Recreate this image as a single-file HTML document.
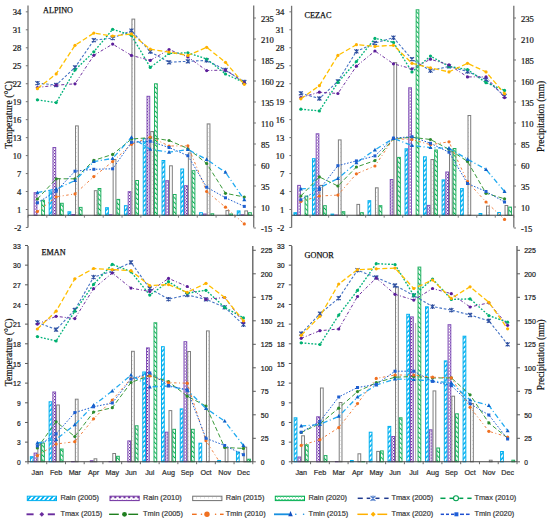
<!DOCTYPE html>
<html><head><meta charset="utf-8"><title>Climate charts</title>
<style>
html,body{margin:0;padding:0;background:#fff;}
body{width:550px;height:521px;overflow:hidden;font-family:"Liberation Sans",sans-serif;}
svg{display:block;}
</style></head><body>
<svg width="550" height="521" viewBox="0 0 550 521">
<defs>
<pattern id="pc" patternUnits="userSpaceOnUse" width="3.4" height="3.4" patternTransform="rotate(45)">
 <rect width="3.4" height="3.4" fill="#00B0F0"/><rect width="1.9" height="3.4" fill="#ffffff"/></pattern>
<pattern id="pp" patternUnits="userSpaceOnUse" width="3" height="3">
 <rect width="3" height="3" fill="#ffffff"/><rect width="1.2" height="1.2" fill="#7030A0"/><rect x="1.5" y="1.5" width="1.2" height="1.2" fill="#7030A0"/></pattern>
<pattern id="pg" patternUnits="userSpaceOnUse" width="4" height="4">
 <rect width="4" height="4" fill="#ffffff"/><rect x="0" y="0" width="0.7" height="0.7" fill="#c8c8c8"/></pattern>
<pattern id="pn" patternUnits="userSpaceOnUse" width="3.4" height="3.4" patternTransform="rotate(-45)">
 <rect width="3.4" height="3.4" fill="#ffffff"/><rect width="1.0" height="3.4" fill="#00B050"/></pattern>
</defs>
<defs>
<pattern id="lpc" patternUnits="userSpaceOnUse" width="3.4" height="3.4" patternTransform="rotate(40)">
 <rect width="3.4" height="3.4" fill="#00B0F0"/><rect width="1.7" height="3.4" fill="#ffffff"/></pattern>
<pattern id="lpp" patternUnits="userSpaceOnUse" width="4.6" height="4.4" x="0.3" y="0">
 <rect width="4.6" height="4.4" fill="#ffffff"/>
 <circle cx="0" cy="0" r="1.3" fill="#7030A0"/><circle cx="4.6" cy="0" r="1.3" fill="#7030A0"/>
 <circle cx="0" cy="4.4" r="1.3" fill="#7030A0"/><circle cx="4.6" cy="4.4" r="1.3" fill="#7030A0"/>
 <circle cx="2.3" cy="2.2" r="0.5" fill="#b090d0"/></pattern>
<pattern id="lpg" patternUnits="userSpaceOnUse" width="4" height="4">
 <rect width="4" height="4" fill="#ffffff"/><rect x="0" y="1.5" width="0.8" height="0.8" fill="#bbbbbb"/></pattern>
<pattern id="lpn" patternUnits="userSpaceOnUse" width="3" height="3">
 <rect width="3" height="3" fill="#ffffff"/><path d="M0 0.8L1.5 2.4L3 0.8" stroke="#00B050" stroke-width="0.7" fill="none"/></pattern>
</defs>
<rect width="550" height="521" fill="#ffffff"/>
<rect x="49.19" y="191.8" width="2.76" height="23.5" fill="url(#pc)" stroke="#00B0F0" stroke-width="1"/>
<rect x="68" y="211.8" width="2.76" height="3.5" fill="url(#pc)" stroke="#00B0F0" stroke-width="1"/>
<rect x="105.61" y="207.7" width="2.76" height="7.6" fill="url(#pc)" stroke="#00B0F0" stroke-width="1"/>
<rect x="124.42" y="205.7" width="2.76" height="9.6" fill="url(#pc)" stroke="#00B0F0" stroke-width="1"/>
<rect x="143.23" y="138.5" width="2.76" height="76.8" fill="url(#pc)" stroke="#00B0F0" stroke-width="1"/>
<rect x="162.04" y="160.5" width="2.76" height="54.8" fill="url(#pc)" stroke="#00B0F0" stroke-width="1"/>
<rect x="180.85" y="169" width="2.76" height="46.3" fill="url(#pc)" stroke="#00B0F0" stroke-width="1"/>
<rect x="199.66" y="212.7" width="2.76" height="2.6" fill="url(#pc)" stroke="#00B0F0" stroke-width="1"/>
<rect x="237.27" y="210.9" width="2.76" height="4.4" fill="url(#pc)" stroke="#00B0F0" stroke-width="1"/>
<rect x="34.14" y="192.7" width="2.76" height="22.6" fill="url(#pp)" stroke="#8050B8" stroke-width="1"/>
<rect x="52.95" y="147.5" width="2.76" height="67.8" fill="url(#pp)" stroke="#8050B8" stroke-width="1"/>
<rect x="71.76" y="214.5" width="2.76" height="0.8" fill="url(#pp)" stroke="#8050B8" stroke-width="1"/>
<rect x="109.38" y="214.8" width="2.76" height="0.5" fill="url(#pp)" stroke="#8050B8" stroke-width="1"/>
<rect x="128.18" y="191.7" width="2.76" height="23.6" fill="url(#pp)" stroke="#8050B8" stroke-width="1"/>
<rect x="146.99" y="96.3" width="2.76" height="119" fill="url(#pp)" stroke="#8050B8" stroke-width="1"/>
<rect x="165.8" y="180.7" width="2.76" height="34.6" fill="url(#pp)" stroke="#8050B8" stroke-width="1"/>
<rect x="184.61" y="185.7" width="2.76" height="29.6" fill="url(#pp)" stroke="#8050B8" stroke-width="1"/>
<rect x="203.42" y="214" width="2.76" height="1.3" fill="url(#pp)" stroke="#8050B8" stroke-width="1"/>
<rect x="241.03" y="214.8" width="2.76" height="0.5" fill="url(#pp)" stroke="#8050B8" stroke-width="1"/>
<rect x="56.71" y="178.5" width="2.76" height="36.8" fill="url(#pg)" stroke="#7E7E7E" stroke-width="1"/>
<rect x="75.52" y="125.9" width="2.76" height="89.4" fill="url(#pg)" stroke="#7E7E7E" stroke-width="1"/>
<rect x="94.33" y="190.7" width="2.76" height="24.6" fill="url(#pg)" stroke="#7E7E7E" stroke-width="1"/>
<rect x="113.14" y="159.5" width="2.76" height="55.8" fill="url(#pg)" stroke="#7E7E7E" stroke-width="1"/>
<rect x="131.95" y="19.1" width="2.76" height="196.2" fill="url(#pg)" stroke="#7E7E7E" stroke-width="1"/>
<rect x="150.75" y="131.5" width="2.76" height="83.8" fill="url(#pg)" stroke="#7E7E7E" stroke-width="1"/>
<rect x="169.56" y="165.8" width="2.76" height="49.5" fill="url(#pg)" stroke="#7E7E7E" stroke-width="1"/>
<rect x="188.37" y="153" width="2.76" height="62.3" fill="url(#pg)" stroke="#7E7E7E" stroke-width="1"/>
<rect x="207.18" y="123.9" width="2.76" height="91.4" fill="url(#pg)" stroke="#7E7E7E" stroke-width="1"/>
<rect x="225.99" y="210.6" width="2.76" height="4.7" fill="url(#pg)" stroke="#7E7E7E" stroke-width="1"/>
<rect x="244.8" y="210.9" width="2.76" height="4.4" fill="url(#pg)" stroke="#7E7E7E" stroke-width="1"/>
<rect x="41.67" y="200.3" width="2.76" height="15" fill="url(#pn)" stroke="#20B060" stroke-width="1"/>
<rect x="60.47" y="203.3" width="2.76" height="12" fill="url(#pn)" stroke="#20B060" stroke-width="1"/>
<rect x="79.28" y="207.4" width="2.76" height="7.9" fill="url(#pn)" stroke="#20B060" stroke-width="1"/>
<rect x="98.09" y="188.5" width="2.76" height="26.8" fill="url(#pn)" stroke="#20B060" stroke-width="1"/>
<rect x="116.9" y="199.4" width="2.76" height="15.9" fill="url(#pn)" stroke="#20B060" stroke-width="1"/>
<rect x="135.71" y="180.5" width="2.76" height="34.8" fill="url(#pn)" stroke="#20B060" stroke-width="1"/>
<rect x="154.52" y="83.8" width="2.76" height="131.5" fill="url(#pn)" stroke="#20B060" stroke-width="1"/>
<rect x="173.32" y="194.5" width="2.76" height="20.8" fill="url(#pn)" stroke="#20B060" stroke-width="1"/>
<rect x="192.13" y="170.7" width="2.76" height="44.6" fill="url(#pn)" stroke="#20B060" stroke-width="1"/>
<rect x="210.94" y="213.8" width="2.76" height="1.5" fill="url(#pn)" stroke="#20B060" stroke-width="1"/>
<rect x="229.75" y="214" width="2.76" height="1.3" fill="url(#pn)" stroke="#20B060" stroke-width="1"/>
<rect x="248.56" y="212.7" width="2.76" height="2.6" fill="url(#pn)" stroke="#20B060" stroke-width="1"/>
<clipPath id="clipALPINO"><rect x="24" y="1.6" width="233.7" height="226"/></clipPath><g clip-path="url(#clipALPINO)">
<polyline points="37.4,83.2 56.21,85 75.02,67.4 93.83,40.2 112.64,38 131.45,30.7 150.25,51.7 169.06,62.3 187.87,61.3 206.68,60.4 225.49,70 244.3,82" fill="none" stroke="#4472C4" stroke-width="1.1" stroke-dasharray="2.6 1.8"/><path d="M35.4 81.2L39.4 85.2M39.4 81.2L35.4 85.2M37.4 80.9L37.4 85.5" stroke="#2F4F9F" stroke-width="1.1" fill="none"/><path d="M54.21 83L58.21 87M58.21 83L54.21 87M56.21 82.7L56.21 87.3" stroke="#2F4F9F" stroke-width="1.1" fill="none"/><path d="M73.02 65.4L77.02 69.4M77.02 65.4L73.02 69.4M75.02 65.1L75.02 69.7" stroke="#2F4F9F" stroke-width="1.1" fill="none"/><path d="M91.83 38.2L95.83 42.2M95.83 38.2L91.83 42.2M93.83 37.9L93.83 42.5" stroke="#2F4F9F" stroke-width="1.1" fill="none"/><path d="M110.64 36L114.64 40M114.64 36L110.64 40M112.64 35.7L112.64 40.3" stroke="#2F4F9F" stroke-width="1.1" fill="none"/><path d="M129.45 28.7L133.45 32.7M133.45 28.7L129.45 32.7M131.45 28.4L131.45 33" stroke="#2F4F9F" stroke-width="1.1" fill="none"/><path d="M148.25 49.7L152.25 53.7M152.25 49.7L148.25 53.7M150.25 49.4L150.25 54" stroke="#2F4F9F" stroke-width="1.1" fill="none"/><path d="M167.06 60.3L171.06 64.3M171.06 60.3L167.06 64.3M169.06 60L169.06 64.6" stroke="#2F4F9F" stroke-width="1.1" fill="none"/><path d="M185.87 59.3L189.87 63.3M189.87 59.3L185.87 63.3M187.87 59L187.87 63.6" stroke="#2F4F9F" stroke-width="1.1" fill="none"/><path d="M204.68 58.4L208.68 62.4M208.68 58.4L204.68 62.4M206.68 58.1L206.68 62.7" stroke="#2F4F9F" stroke-width="1.1" fill="none"/><path d="M223.49 68L227.49 72M227.49 68L223.49 72M225.49 67.7L225.49 72.3" stroke="#2F4F9F" stroke-width="1.1" fill="none"/><path d="M242.3 80L246.3 84M246.3 80L242.3 84M244.3 79.7L244.3 84.3" stroke="#2F4F9F" stroke-width="1.1" fill="none"/>
<polyline points="37.4,99.8 56.21,102.6 75.02,70 93.83,51.8 112.64,29.3 131.45,35.4 150.25,67.4 169.06,53.5 187.87,52.8 206.68,59 225.49,74 244.3,82.5" fill="none" stroke="#00B27A" stroke-width="1.35" stroke-dasharray="1.8 1.6"/><circle cx="37.4" cy="99.8" r="1.6" fill="#00B070"/><circle cx="56.21" cy="102.6" r="1.6" fill="#00B070"/><circle cx="75.02" cy="70" r="1.6" fill="#00B070"/><circle cx="93.83" cy="51.8" r="1.6" fill="#00B070"/><circle cx="112.64" cy="29.3" r="1.6" fill="#00B070"/><circle cx="131.45" cy="35.4" r="1.6" fill="#00B070"/><circle cx="150.25" cy="67.4" r="1.6" fill="#00B070"/><circle cx="169.06" cy="53.5" r="1.6" fill="#00B070"/><circle cx="187.87" cy="52.8" r="1.6" fill="#00B070"/><circle cx="206.68" cy="59" r="1.6" fill="#00B070"/><circle cx="225.49" cy="74" r="1.6" fill="#00B070"/><circle cx="244.3" cy="82.5" r="1.6" fill="#00B070"/>
<polyline points="37.4,87.5 56.21,85.2 75.02,83.8 93.83,55.3 112.64,44.1 131.45,55.4 150.25,60.4 169.06,49.6 187.87,56.9 206.68,70.6 225.49,70 244.3,82.5" fill="none" stroke="#7030A0" stroke-width="1.0" stroke-dasharray="3 2 1 2"/><circle cx="37.4" cy="87.5" r="1.6" fill="#5B1E9A"/><circle cx="56.21" cy="85.2" r="1.6" fill="#5B1E9A"/><circle cx="75.02" cy="83.8" r="1.6" fill="#5B1E9A"/><circle cx="93.83" cy="55.3" r="1.6" fill="#5B1E9A"/><circle cx="112.64" cy="44.1" r="1.6" fill="#5B1E9A"/><circle cx="131.45" cy="55.4" r="1.6" fill="#5B1E9A"/><circle cx="150.25" cy="60.4" r="1.6" fill="#5B1E9A"/><circle cx="169.06" cy="49.6" r="1.6" fill="#5B1E9A"/><circle cx="187.87" cy="56.9" r="1.6" fill="#5B1E9A"/><circle cx="206.68" cy="70.6" r="1.6" fill="#5B1E9A"/><circle cx="225.49" cy="70" r="1.6" fill="#5B1E9A"/><circle cx="244.3" cy="82.5" r="1.6" fill="#5B1E9A"/>
<polyline points="37.4,199 56.21,178.8 75.02,178.8 93.83,160.4 112.64,154.4 131.45,139 150.25,137.6 169.06,140.5 187.87,148.5 206.68,163.5 225.49,193.3 244.3,197" fill="none" stroke="#3A9A3A" stroke-width="1.0" stroke-dasharray="4.5 2.5"/><circle cx="37.4" cy="199" r="1.6" fill="#2E8B2E"/><circle cx="56.21" cy="178.8" r="1.6" fill="#2E8B2E"/><circle cx="75.02" cy="178.8" r="1.6" fill="#2E8B2E"/><circle cx="93.83" cy="160.4" r="1.6" fill="#2E8B2E"/><circle cx="112.64" cy="154.4" r="1.6" fill="#2E8B2E"/><circle cx="131.45" cy="139" r="1.6" fill="#2E8B2E"/><circle cx="150.25" cy="137.6" r="1.6" fill="#2E8B2E"/><circle cx="169.06" cy="140.5" r="1.6" fill="#2E8B2E"/><circle cx="187.87" cy="148.5" r="1.6" fill="#2E8B2E"/><circle cx="206.68" cy="163.5" r="1.6" fill="#2E8B2E"/><circle cx="225.49" cy="193.3" r="1.6" fill="#2E8B2E"/><circle cx="244.3" cy="197" r="1.6" fill="#2E8B2E"/>
<polyline points="37.4,211.6 56.21,196.8 75.02,193.9 93.83,176.6 112.64,161.6 131.45,144.3 150.25,137 169.06,146 187.87,145.8 206.68,191.5 225.49,207.2 244.3,223.9" fill="none" stroke="#F08040" stroke-width="1.0" stroke-dasharray="2.5 2.5 1 2.5"/><circle cx="37.4" cy="211.6" r="1.6" fill="#F07020"/><circle cx="56.21" cy="196.8" r="1.6" fill="#F07020"/><circle cx="75.02" cy="193.9" r="1.6" fill="#F07020"/><circle cx="93.83" cy="176.6" r="1.6" fill="#F07020"/><circle cx="112.64" cy="161.6" r="1.6" fill="#F07020"/><circle cx="131.45" cy="144.3" r="1.6" fill="#F07020"/><circle cx="150.25" cy="137" r="1.6" fill="#F07020"/><circle cx="169.06" cy="146" r="1.6" fill="#F07020"/><circle cx="187.87" cy="145.8" r="1.6" fill="#F07020"/><circle cx="206.68" cy="191.5" r="1.6" fill="#F07020"/><circle cx="225.49" cy="207.2" r="1.6" fill="#F07020"/><circle cx="244.3" cy="223.9" r="1.6" fill="#F07020"/>
<polyline points="37.4,88.7 56.21,73.9 75.02,45.3 93.83,33.1 112.64,36.1 131.45,33.9 150.25,49.2 169.06,52.1 187.87,55.4 206.68,47.3 225.49,62.3 244.3,84.3" fill="none" stroke="#FFC000" stroke-width="1.3" stroke-dasharray="5 2.5"/><circle cx="37.4" cy="88.7" r="1.6" fill="#FFB000"/><circle cx="56.21" cy="73.9" r="1.6" fill="#FFB000"/><circle cx="75.02" cy="45.3" r="1.6" fill="#FFB000"/><circle cx="93.83" cy="33.1" r="1.6" fill="#FFB000"/><circle cx="112.64" cy="36.1" r="1.6" fill="#FFB000"/><circle cx="131.45" cy="33.9" r="1.6" fill="#FFB000"/><circle cx="150.25" cy="49.2" r="1.6" fill="#FFB000"/><circle cx="169.06" cy="52.1" r="1.6" fill="#FFB000"/><circle cx="187.87" cy="55.4" r="1.6" fill="#FFB000"/><circle cx="206.68" cy="47.3" r="1.6" fill="#FFB000"/><circle cx="225.49" cy="62.3" r="1.6" fill="#FFB000"/><circle cx="244.3" cy="84.3" r="1.6" fill="#FFB000"/>
<polyline points="37.4,192.7 56.21,189 75.02,180.5 93.83,161.6 112.64,158.4 131.45,137.4 150.25,149.3 169.06,152.2 187.87,149.5 206.68,159.5 225.49,172.3 244.3,199.8" fill="none" stroke="#20AAF0" stroke-width="1.3" stroke-dasharray="5 2.5 1 2.5"/><path d="M37.4 190.5L39.4 194.2L35.4 194.2Z" fill="#1060C8"/><path d="M56.21 186.8L58.21 190.5L54.21 190.5Z" fill="#1060C8"/><path d="M75.02 178.3L77.02 182L73.02 182Z" fill="#1060C8"/><path d="M93.83 159.4L95.83 163.1L91.83 163.1Z" fill="#1060C8"/><path d="M112.64 156.2L114.64 159.9L110.64 159.9Z" fill="#1060C8"/><path d="M131.45 135.2L133.45 138.9L129.45 138.9Z" fill="#1060C8"/><path d="M150.25 147.1L152.25 150.8L148.25 150.8Z" fill="#1060C8"/><path d="M169.06 150L171.06 153.7L167.06 153.7Z" fill="#1060C8"/><path d="M187.87 147.3L189.87 151L185.87 151Z" fill="#1060C8"/><path d="M206.68 157.3L208.68 161L204.68 161Z" fill="#1060C8"/><path d="M225.49 170.1L227.49 173.8L223.49 173.8Z" fill="#1060C8"/><path d="M244.3 197.6L246.3 201.3L242.3 201.3Z" fill="#1060C8"/>
<polyline points="37.4,202.8 56.21,191.2 75.02,171.2 93.83,169.3 112.64,168.8 131.45,142.3 150.25,141.3 169.06,147.5 187.87,155.7 206.68,187.2 225.49,197.8 244.3,206.4" fill="none" stroke="#2060D0" stroke-width="1.0" stroke-dasharray="1.6 1.6"/><rect x="35.9" y="201.3" width="3" height="3" fill="#1F5FCF"/><rect x="54.71" y="189.7" width="3" height="3" fill="#1F5FCF"/><rect x="73.52" y="169.7" width="3" height="3" fill="#1F5FCF"/><rect x="92.33" y="167.8" width="3" height="3" fill="#1F5FCF"/><rect x="111.14" y="167.3" width="3" height="3" fill="#1F5FCF"/><rect x="129.95" y="140.8" width="3" height="3" fill="#1F5FCF"/><rect x="148.75" y="139.8" width="3" height="3" fill="#1F5FCF"/><rect x="167.56" y="146" width="3" height="3" fill="#1F5FCF"/><rect x="186.37" y="154.2" width="3" height="3" fill="#1F5FCF"/><rect x="205.18" y="185.7" width="3" height="3" fill="#1F5FCF"/><rect x="223.99" y="196.3" width="3" height="3" fill="#1F5FCF"/><rect x="242.8" y="204.9" width="3" height="3" fill="#1F5FCF"/>
</g>
<line x1="28" y1="5.6" x2="28" y2="227.6" stroke="#737373" stroke-width="1.3"/>
<line x1="253.7" y1="5.6" x2="253.7" y2="227.6" stroke="#737373" stroke-width="1.3"/>
<line x1="28" y1="215.3" x2="253.7" y2="215.3" stroke="#404040" stroke-width="1.1"/>
<line x1="28" y1="215.3" x2="28" y2="217.7" stroke="#737373" stroke-width="0.9"/>
<line x1="46.81" y1="215.3" x2="46.81" y2="217.7" stroke="#737373" stroke-width="0.9"/>
<line x1="65.62" y1="215.3" x2="65.62" y2="217.7" stroke="#737373" stroke-width="0.9"/>
<line x1="84.42" y1="215.3" x2="84.42" y2="217.7" stroke="#737373" stroke-width="0.9"/>
<line x1="103.23" y1="215.3" x2="103.23" y2="217.7" stroke="#737373" stroke-width="0.9"/>
<line x1="122.04" y1="215.3" x2="122.04" y2="217.7" stroke="#737373" stroke-width="0.9"/>
<line x1="140.85" y1="215.3" x2="140.85" y2="217.7" stroke="#737373" stroke-width="0.9"/>
<line x1="159.66" y1="215.3" x2="159.66" y2="217.7" stroke="#737373" stroke-width="0.9"/>
<line x1="178.47" y1="215.3" x2="178.47" y2="217.7" stroke="#737373" stroke-width="0.9"/>
<line x1="197.28" y1="215.3" x2="197.28" y2="217.7" stroke="#737373" stroke-width="0.9"/>
<line x1="216.08" y1="215.3" x2="216.08" y2="217.7" stroke="#737373" stroke-width="0.9"/>
<line x1="234.89" y1="215.3" x2="234.89" y2="217.7" stroke="#737373" stroke-width="0.9"/>
<line x1="253.7" y1="215.3" x2="253.7" y2="217.7" stroke="#737373" stroke-width="0.9"/>
<line x1="25.8" y1="227.48" x2="28" y2="227.48" stroke="#737373" stroke-width="1"/>
<text x="21.3" y="230.98" text-anchor="end" font-family='"Liberation Serif", serif' font-size="8.6" fill="#1a1a1a" stroke="#1a1a1a" stroke-width="0.22">-2</text>
<line x1="25.8" y1="209.51" x2="28" y2="209.51" stroke="#737373" stroke-width="1"/>
<text x="21.3" y="213.01" text-anchor="end" font-family='"Liberation Serif", serif' font-size="8.6" fill="#1a1a1a" stroke="#1a1a1a" stroke-width="0.22">1</text>
<line x1="25.8" y1="191.54" x2="28" y2="191.54" stroke="#737373" stroke-width="1"/>
<text x="21.3" y="195.04" text-anchor="end" font-family='"Liberation Serif", serif' font-size="8.6" fill="#1a1a1a" stroke="#1a1a1a" stroke-width="0.22">4</text>
<line x1="25.8" y1="173.57" x2="28" y2="173.57" stroke="#737373" stroke-width="1"/>
<text x="21.3" y="177.07" text-anchor="end" font-family='"Liberation Serif", serif' font-size="8.6" fill="#1a1a1a" stroke="#1a1a1a" stroke-width="0.22">7</text>
<line x1="25.8" y1="155.6" x2="28" y2="155.6" stroke="#737373" stroke-width="1"/>
<text x="21.3" y="159.1" text-anchor="end" font-family='"Liberation Serif", serif' font-size="8.6" fill="#1a1a1a" stroke="#1a1a1a" stroke-width="0.22">10</text>
<line x1="25.8" y1="137.63" x2="28" y2="137.63" stroke="#737373" stroke-width="1"/>
<text x="21.3" y="141.13" text-anchor="end" font-family='"Liberation Serif", serif' font-size="8.6" fill="#1a1a1a" stroke="#1a1a1a" stroke-width="0.22">13</text>
<line x1="25.8" y1="119.66" x2="28" y2="119.66" stroke="#737373" stroke-width="1"/>
<text x="21.3" y="123.16" text-anchor="end" font-family='"Liberation Serif", serif' font-size="8.6" fill="#1a1a1a" stroke="#1a1a1a" stroke-width="0.22">16</text>
<line x1="25.8" y1="101.69" x2="28" y2="101.69" stroke="#737373" stroke-width="1"/>
<text x="21.3" y="105.19" text-anchor="end" font-family='"Liberation Serif", serif' font-size="8.6" fill="#1a1a1a" stroke="#1a1a1a" stroke-width="0.22">19</text>
<line x1="25.8" y1="83.72" x2="28" y2="83.72" stroke="#737373" stroke-width="1"/>
<text x="21.3" y="87.22" text-anchor="end" font-family='"Liberation Serif", serif' font-size="8.6" fill="#1a1a1a" stroke="#1a1a1a" stroke-width="0.22">22</text>
<line x1="25.8" y1="65.75" x2="28" y2="65.75" stroke="#737373" stroke-width="1"/>
<text x="21.3" y="69.25" text-anchor="end" font-family='"Liberation Serif", serif' font-size="8.6" fill="#1a1a1a" stroke="#1a1a1a" stroke-width="0.22">25</text>
<line x1="25.8" y1="47.78" x2="28" y2="47.78" stroke="#737373" stroke-width="1"/>
<text x="21.3" y="51.28" text-anchor="end" font-family='"Liberation Serif", serif' font-size="8.6" fill="#1a1a1a" stroke="#1a1a1a" stroke-width="0.22">28</text>
<line x1="25.8" y1="29.81" x2="28" y2="29.81" stroke="#737373" stroke-width="1"/>
<text x="21.3" y="33.31" text-anchor="end" font-family='"Liberation Serif", serif' font-size="8.6" fill="#1a1a1a" stroke="#1a1a1a" stroke-width="0.22">31</text>
<line x1="25.8" y1="11.84" x2="28" y2="11.84" stroke="#737373" stroke-width="1"/>
<text x="21.3" y="15.34" text-anchor="end" font-family='"Liberation Serif", serif' font-size="8.6" fill="#1a1a1a" stroke="#1a1a1a" stroke-width="0.22">34</text>
<line x1="253.7" y1="228" x2="255.9" y2="228" stroke="#737373" stroke-width="1"/>
<text x="260.9" y="231.5" font-family='"Liberation Serif", serif' font-size="8.6" fill="#1a1a1a" stroke="#1a1a1a" stroke-width="0.22">-15</text>
<line x1="253.7" y1="207" x2="255.9" y2="207" stroke="#737373" stroke-width="1"/>
<text x="260.9" y="210.5" font-family='"Liberation Serif", serif' font-size="8.6" fill="#1a1a1a" stroke="#1a1a1a" stroke-width="0.22">10</text>
<line x1="253.7" y1="186" x2="255.9" y2="186" stroke="#737373" stroke-width="1"/>
<text x="260.9" y="189.5" font-family='"Liberation Serif", serif' font-size="8.6" fill="#1a1a1a" stroke="#1a1a1a" stroke-width="0.22">35</text>
<line x1="253.7" y1="165" x2="255.9" y2="165" stroke="#737373" stroke-width="1"/>
<text x="260.9" y="168.5" font-family='"Liberation Serif", serif' font-size="8.6" fill="#1a1a1a" stroke="#1a1a1a" stroke-width="0.22">60</text>
<line x1="253.7" y1="144" x2="255.9" y2="144" stroke="#737373" stroke-width="1"/>
<text x="260.9" y="147.5" font-family='"Liberation Serif", serif' font-size="8.6" fill="#1a1a1a" stroke="#1a1a1a" stroke-width="0.22">85</text>
<line x1="253.7" y1="123" x2="255.9" y2="123" stroke="#737373" stroke-width="1"/>
<text x="260.9" y="126.5" font-family='"Liberation Serif", serif' font-size="8.6" fill="#1a1a1a" stroke="#1a1a1a" stroke-width="0.22">110</text>
<line x1="253.7" y1="102" x2="255.9" y2="102" stroke="#737373" stroke-width="1"/>
<text x="260.9" y="105.5" font-family='"Liberation Serif", serif' font-size="8.6" fill="#1a1a1a" stroke="#1a1a1a" stroke-width="0.22">135</text>
<line x1="253.7" y1="81" x2="255.9" y2="81" stroke="#737373" stroke-width="1"/>
<text x="260.9" y="84.5" font-family='"Liberation Serif", serif' font-size="8.6" fill="#1a1a1a" stroke="#1a1a1a" stroke-width="0.22">160</text>
<line x1="253.7" y1="60" x2="255.9" y2="60" stroke="#737373" stroke-width="1"/>
<text x="260.9" y="63.5" font-family='"Liberation Serif", serif' font-size="8.6" fill="#1a1a1a" stroke="#1a1a1a" stroke-width="0.22">185</text>
<line x1="253.7" y1="39" x2="255.9" y2="39" stroke="#737373" stroke-width="1"/>
<text x="260.9" y="42.5" font-family='"Liberation Serif", serif' font-size="8.6" fill="#1a1a1a" stroke="#1a1a1a" stroke-width="0.22">210</text>
<line x1="253.7" y1="18" x2="255.9" y2="18" stroke="#737373" stroke-width="1"/>
<text x="260.9" y="21.5" font-family='"Liberation Serif", serif' font-size="8.6" fill="#1a1a1a" stroke="#1a1a1a" stroke-width="0.22">235</text>
<text x="43.1" y="13.1" font-family='"Liberation Serif", serif' font-size="8.6" fill="#111" stroke="#111" stroke-width="0.25" textLength="29.8" lengthAdjust="spacingAndGlyphs">ALPINO</text>
<rect x="293.95" y="212.7" width="2.7" height="2.6" fill="url(#pc)" stroke="#00B0F0" stroke-width="1"/>
<rect x="312.47" y="158.7" width="2.7" height="56.6" fill="url(#pc)" stroke="#00B0F0" stroke-width="1"/>
<rect x="330.99" y="214.1" width="2.7" height="1.2" fill="url(#pc)" stroke="#00B0F0" stroke-width="1"/>
<rect x="368.02" y="200.7" width="2.7" height="14.6" fill="url(#pc)" stroke="#00B0F0" stroke-width="1"/>
<rect x="405.05" y="148.8" width="2.7" height="66.5" fill="url(#pc)" stroke="#00B0F0" stroke-width="1"/>
<rect x="423.57" y="156.8" width="2.7" height="58.5" fill="url(#pc)" stroke="#00B0F0" stroke-width="1"/>
<rect x="442.08" y="179.9" width="2.7" height="35.4" fill="url(#pc)" stroke="#00B0F0" stroke-width="1"/>
<rect x="460.6" y="188.6" width="2.7" height="26.7" fill="url(#pc)" stroke="#00B0F0" stroke-width="1"/>
<rect x="479.12" y="213.5" width="2.7" height="1.8" fill="url(#pc)" stroke="#00B0F0" stroke-width="1"/>
<rect x="497.63" y="212.5" width="2.7" height="2.8" fill="url(#pc)" stroke="#00B0F0" stroke-width="1"/>
<rect x="297.66" y="185.4" width="2.7" height="29.9" fill="url(#pp)" stroke="#8050B8" stroke-width="1"/>
<rect x="316.17" y="133.8" width="2.7" height="81.5" fill="url(#pp)" stroke="#8050B8" stroke-width="1"/>
<rect x="334.69" y="215" width="2.7" height="0.3" fill="url(#pp)" stroke="#8050B8" stroke-width="1"/>
<rect x="390.24" y="179.5" width="2.7" height="35.8" fill="url(#pp)" stroke="#8050B8" stroke-width="1"/>
<rect x="408.75" y="87.8" width="2.7" height="127.5" fill="url(#pp)" stroke="#8050B8" stroke-width="1"/>
<rect x="427.27" y="205.4" width="2.7" height="9.9" fill="url(#pp)" stroke="#8050B8" stroke-width="1"/>
<rect x="445.79" y="172" width="2.7" height="43.3" fill="url(#pp)" stroke="#8050B8" stroke-width="1"/>
<rect x="319.88" y="185.4" width="2.7" height="29.9" fill="url(#pg)" stroke="#7E7E7E" stroke-width="1"/>
<rect x="338.39" y="139.9" width="2.7" height="75.4" fill="url(#pg)" stroke="#7E7E7E" stroke-width="1"/>
<rect x="356.91" y="204.4" width="2.7" height="10.9" fill="url(#pg)" stroke="#7E7E7E" stroke-width="1"/>
<rect x="375.43" y="187.8" width="2.7" height="27.5" fill="url(#pg)" stroke="#7E7E7E" stroke-width="1"/>
<rect x="393.94" y="62.7" width="2.7" height="152.6" fill="url(#pg)" stroke="#7E7E7E" stroke-width="1"/>
<rect x="430.98" y="159.5" width="2.7" height="55.8" fill="url(#pg)" stroke="#7E7E7E" stroke-width="1"/>
<rect x="449.49" y="151.8" width="2.7" height="63.5" fill="url(#pg)" stroke="#7E7E7E" stroke-width="1"/>
<rect x="468.01" y="115.5" width="2.7" height="99.8" fill="url(#pg)" stroke="#7E7E7E" stroke-width="1"/>
<rect x="486.52" y="206.1" width="2.7" height="9.2" fill="url(#pg)" stroke="#7E7E7E" stroke-width="1"/>
<rect x="505.04" y="205.5" width="2.7" height="9.8" fill="url(#pg)" stroke="#7E7E7E" stroke-width="1"/>
<rect x="305.06" y="196.1" width="2.7" height="19.2" fill="url(#pn)" stroke="#20B060" stroke-width="1"/>
<rect x="323.58" y="205.7" width="2.7" height="9.6" fill="url(#pn)" stroke="#20B060" stroke-width="1"/>
<rect x="342.1" y="211.7" width="2.7" height="3.6" fill="url(#pn)" stroke="#20B060" stroke-width="1"/>
<rect x="360.61" y="212.7" width="2.7" height="2.6" fill="url(#pn)" stroke="#20B060" stroke-width="1"/>
<rect x="379.13" y="205.7" width="2.7" height="9.6" fill="url(#pn)" stroke="#20B060" stroke-width="1"/>
<rect x="397.64" y="157.4" width="2.7" height="57.9" fill="url(#pn)" stroke="#20B060" stroke-width="1"/>
<rect x="416.16" y="9.8" width="2.7" height="205.5" fill="url(#pn)" stroke="#20B060" stroke-width="1"/>
<rect x="434.68" y="150" width="2.7" height="65.3" fill="url(#pn)" stroke="#20B060" stroke-width="1"/>
<rect x="453.19" y="148.5" width="2.7" height="66.8" fill="url(#pn)" stroke="#20B060" stroke-width="1"/>
<rect x="508.74" y="207.1" width="2.7" height="8.2" fill="url(#pn)" stroke="#20B060" stroke-width="1"/>
<clipPath id="clipCEZAC"><rect x="287.6" y="1.8" width="230.2" height="225.8"/></clipPath><g clip-path="url(#clipCEZAC)">
<polyline points="300.86,93.3 319.38,98.5 337.89,81.3 356.41,51.4 374.93,43 393.44,37.7 411.96,59.2 430.48,70.7 448.99,66.4 467.51,71.5 486.02,79.6 504.54,96" fill="none" stroke="#4472C4" stroke-width="1.1" stroke-dasharray="2.6 1.8"/><path d="M298.86 91.3L302.86 95.3M302.86 91.3L298.86 95.3M300.86 91L300.86 95.6" stroke="#2F4F9F" stroke-width="1.1" fill="none"/><path d="M317.38 96.5L321.38 100.5M321.38 96.5L317.38 100.5M319.38 96.2L319.38 100.8" stroke="#2F4F9F" stroke-width="1.1" fill="none"/><path d="M335.89 79.3L339.89 83.3M339.89 79.3L335.89 83.3M337.89 79L337.89 83.6" stroke="#2F4F9F" stroke-width="1.1" fill="none"/><path d="M354.41 49.4L358.41 53.4M358.41 49.4L354.41 53.4M356.41 49.1L356.41 53.7" stroke="#2F4F9F" stroke-width="1.1" fill="none"/><path d="M372.93 41L376.93 45M376.93 41L372.93 45M374.93 40.7L374.93 45.3" stroke="#2F4F9F" stroke-width="1.1" fill="none"/><path d="M391.44 35.7L395.44 39.7M395.44 35.7L391.44 39.7M393.44 35.4L393.44 40" stroke="#2F4F9F" stroke-width="1.1" fill="none"/><path d="M409.96 57.2L413.96 61.2M413.96 57.2L409.96 61.2M411.96 56.9L411.96 61.5" stroke="#2F4F9F" stroke-width="1.1" fill="none"/><path d="M428.48 68.7L432.48 72.7M432.48 68.7L428.48 72.7M430.48 68.4L430.48 73" stroke="#2F4F9F" stroke-width="1.1" fill="none"/><path d="M446.99 64.4L450.99 68.4M450.99 64.4L446.99 68.4M448.99 64.1L448.99 68.7" stroke="#2F4F9F" stroke-width="1.1" fill="none"/><path d="M465.51 69.5L469.51 73.5M469.51 69.5L465.51 73.5M467.51 69.2L467.51 73.8" stroke="#2F4F9F" stroke-width="1.1" fill="none"/><path d="M484.02 77.6L488.02 81.6M488.02 77.6L484.02 81.6M486.02 77.3L486.02 81.9" stroke="#2F4F9F" stroke-width="1.1" fill="none"/><path d="M502.54 94L506.54 98M506.54 94L502.54 98M504.54 93.7L504.54 98.3" stroke="#2F4F9F" stroke-width="1.1" fill="none"/>
<polyline points="300.86,109.2 319.38,110.9 337.89,82.4 356.41,61.5 374.93,38.4 393.44,42.3 411.96,71.9 430.48,56.1 448.99,66.4 467.51,69.5 486.02,82.7 504.54,90.4" fill="none" stroke="#00B27A" stroke-width="1.35" stroke-dasharray="1.8 1.6"/><circle cx="300.86" cy="109.2" r="1.6" fill="#00B070"/><circle cx="319.38" cy="110.9" r="1.6" fill="#00B070"/><circle cx="337.89" cy="82.4" r="1.6" fill="#00B070"/><circle cx="356.41" cy="61.5" r="1.6" fill="#00B070"/><circle cx="374.93" cy="38.4" r="1.6" fill="#00B070"/><circle cx="393.44" cy="42.3" r="1.6" fill="#00B070"/><circle cx="411.96" cy="71.9" r="1.6" fill="#00B070"/><circle cx="430.48" cy="56.1" r="1.6" fill="#00B070"/><circle cx="448.99" cy="66.4" r="1.6" fill="#00B070"/><circle cx="467.51" cy="69.5" r="1.6" fill="#00B070"/><circle cx="486.02" cy="82.7" r="1.6" fill="#00B070"/><circle cx="504.54" cy="90.4" r="1.6" fill="#00B070"/>
<polyline points="300.86,97.5 319.38,92.2 337.89,93.5 356.41,66.2 374.93,51 393.44,63.8 411.96,68.8 430.48,59.2 448.99,64.9 467.51,76.9 486.02,76.9 504.54,97.6" fill="none" stroke="#7030A0" stroke-width="1.0" stroke-dasharray="3 2 1 2"/><circle cx="300.86" cy="97.5" r="1.6" fill="#5B1E9A"/><circle cx="319.38" cy="92.2" r="1.6" fill="#5B1E9A"/><circle cx="337.89" cy="93.5" r="1.6" fill="#5B1E9A"/><circle cx="356.41" cy="66.2" r="1.6" fill="#5B1E9A"/><circle cx="374.93" cy="51" r="1.6" fill="#5B1E9A"/><circle cx="393.44" cy="63.8" r="1.6" fill="#5B1E9A"/><circle cx="411.96" cy="68.8" r="1.6" fill="#5B1E9A"/><circle cx="430.48" cy="59.2" r="1.6" fill="#5B1E9A"/><circle cx="448.99" cy="64.9" r="1.6" fill="#5B1E9A"/><circle cx="467.51" cy="76.9" r="1.6" fill="#5B1E9A"/><circle cx="486.02" cy="76.9" r="1.6" fill="#5B1E9A"/><circle cx="504.54" cy="97.6" r="1.6" fill="#5B1E9A"/>
<polyline points="300.86,196 319.38,176.9 337.89,186 356.41,167 374.93,160.6 393.44,138.8 411.96,137.3 430.48,139.5 448.99,149.3 467.51,161.4 486.02,193.3 504.54,198.8" fill="none" stroke="#3A9A3A" stroke-width="1.0" stroke-dasharray="4.5 2.5"/><circle cx="300.86" cy="196" r="1.6" fill="#2E8B2E"/><circle cx="319.38" cy="176.9" r="1.6" fill="#2E8B2E"/><circle cx="337.89" cy="186" r="1.6" fill="#2E8B2E"/><circle cx="356.41" cy="167" r="1.6" fill="#2E8B2E"/><circle cx="374.93" cy="160.6" r="1.6" fill="#2E8B2E"/><circle cx="393.44" cy="138.8" r="1.6" fill="#2E8B2E"/><circle cx="411.96" cy="137.3" r="1.6" fill="#2E8B2E"/><circle cx="430.48" cy="139.5" r="1.6" fill="#2E8B2E"/><circle cx="448.99" cy="149.3" r="1.6" fill="#2E8B2E"/><circle cx="467.51" cy="161.4" r="1.6" fill="#2E8B2E"/><circle cx="486.02" cy="193.3" r="1.6" fill="#2E8B2E"/><circle cx="504.54" cy="198.8" r="1.6" fill="#2E8B2E"/>
<polyline points="300.86,201.5 319.38,196 337.89,195.1 356.41,173.8 374.93,166 393.44,138.6 411.96,139.5 430.48,144.7 448.99,141.8 467.51,181.7 486.02,202 504.54,219.4" fill="none" stroke="#F08040" stroke-width="1.0" stroke-dasharray="2.5 2.5 1 2.5"/><circle cx="300.86" cy="201.5" r="1.6" fill="#F07020"/><circle cx="319.38" cy="196" r="1.6" fill="#F07020"/><circle cx="337.89" cy="195.1" r="1.6" fill="#F07020"/><circle cx="356.41" cy="173.8" r="1.6" fill="#F07020"/><circle cx="374.93" cy="166" r="1.6" fill="#F07020"/><circle cx="393.44" cy="138.6" r="1.6" fill="#F07020"/><circle cx="411.96" cy="139.5" r="1.6" fill="#F07020"/><circle cx="430.48" cy="144.7" r="1.6" fill="#F07020"/><circle cx="448.99" cy="141.8" r="1.6" fill="#F07020"/><circle cx="467.51" cy="181.7" r="1.6" fill="#F07020"/><circle cx="486.02" cy="202" r="1.6" fill="#F07020"/><circle cx="504.54" cy="219.4" r="1.6" fill="#F07020"/>
<polyline points="300.86,98.8 319.38,85.7 337.89,55.4 356.41,44.7 374.93,46.4 393.44,45.3 411.96,63.3 430.48,67.9 448.99,71.9 467.51,63.3 486.02,71.9 504.54,93.7" fill="none" stroke="#FFC000" stroke-width="1.3" stroke-dasharray="5 2.5"/><circle cx="300.86" cy="98.8" r="1.6" fill="#FFB000"/><circle cx="319.38" cy="85.7" r="1.6" fill="#FFB000"/><circle cx="337.89" cy="55.4" r="1.6" fill="#FFB000"/><circle cx="356.41" cy="44.7" r="1.6" fill="#FFB000"/><circle cx="374.93" cy="46.4" r="1.6" fill="#FFB000"/><circle cx="393.44" cy="45.3" r="1.6" fill="#FFB000"/><circle cx="411.96" cy="63.3" r="1.6" fill="#FFB000"/><circle cx="430.48" cy="67.9" r="1.6" fill="#FFB000"/><circle cx="448.99" cy="71.9" r="1.6" fill="#FFB000"/><circle cx="467.51" cy="63.3" r="1.6" fill="#FFB000"/><circle cx="486.02" cy="71.9" r="1.6" fill="#FFB000"/><circle cx="504.54" cy="93.7" r="1.6" fill="#FFB000"/>
<polyline points="300.86,188.9 319.38,188 337.89,178.5 356.41,162.8 374.93,149.9 393.44,138.4 411.96,145.5 430.48,147.6 448.99,148.3 467.51,159.2 486.02,169.4 504.54,191.5" fill="none" stroke="#20AAF0" stroke-width="1.3" stroke-dasharray="5 2.5 1 2.5"/><path d="M300.86 186.7L302.86 190.4L298.86 190.4Z" fill="#1060C8"/><path d="M319.38 185.8L321.38 189.5L317.38 189.5Z" fill="#1060C8"/><path d="M337.89 176.3L339.89 180L335.89 180Z" fill="#1060C8"/><path d="M356.41 160.6L358.41 164.3L354.41 164.3Z" fill="#1060C8"/><path d="M374.93 147.7L376.93 151.4L372.93 151.4Z" fill="#1060C8"/><path d="M393.44 136.2L395.44 139.9L391.44 139.9Z" fill="#1060C8"/><path d="M411.96 143.3L413.96 147L409.96 147Z" fill="#1060C8"/><path d="M430.48 145.4L432.48 149.1L428.48 149.1Z" fill="#1060C8"/><path d="M448.99 146.1L450.99 149.8L446.99 149.8Z" fill="#1060C8"/><path d="M467.51 157L469.51 160.7L465.51 160.7Z" fill="#1060C8"/><path d="M486.02 167.2L488.02 170.9L484.02 170.9Z" fill="#1060C8"/><path d="M504.54 189.3L506.54 193L502.54 193Z" fill="#1060C8"/>
<polyline points="300.86,199.8 319.38,189.5 337.89,165.7 356.41,160.9 374.93,155.9 393.44,138.1 411.96,136.7 430.48,143.3 448.99,152.2 467.51,183.5 486.02,191.5 504.54,202" fill="none" stroke="#2060D0" stroke-width="1.0" stroke-dasharray="1.6 1.6"/><rect x="299.36" y="198.3" width="3" height="3" fill="#1F5FCF"/><rect x="317.88" y="188" width="3" height="3" fill="#1F5FCF"/><rect x="336.39" y="164.2" width="3" height="3" fill="#1F5FCF"/><rect x="354.91" y="159.4" width="3" height="3" fill="#1F5FCF"/><rect x="373.43" y="154.4" width="3" height="3" fill="#1F5FCF"/><rect x="391.94" y="136.6" width="3" height="3" fill="#1F5FCF"/><rect x="410.46" y="135.2" width="3" height="3" fill="#1F5FCF"/><rect x="428.98" y="141.8" width="3" height="3" fill="#1F5FCF"/><rect x="447.49" y="150.7" width="3" height="3" fill="#1F5FCF"/><rect x="466.01" y="182" width="3" height="3" fill="#1F5FCF"/><rect x="484.52" y="190" width="3" height="3" fill="#1F5FCF"/><rect x="503.04" y="200.5" width="3" height="3" fill="#1F5FCF"/>
</g>
<line x1="291.6" y1="5.8" x2="291.6" y2="227.6" stroke="#737373" stroke-width="1.3"/>
<line x1="513.8" y1="5.8" x2="513.8" y2="227.6" stroke="#737373" stroke-width="1.3"/>
<line x1="291.6" y1="215.3" x2="513.8" y2="215.3" stroke="#404040" stroke-width="1.1"/>
<line x1="291.6" y1="215.3" x2="291.6" y2="217.7" stroke="#737373" stroke-width="0.9"/>
<line x1="310.12" y1="215.3" x2="310.12" y2="217.7" stroke="#737373" stroke-width="0.9"/>
<line x1="328.63" y1="215.3" x2="328.63" y2="217.7" stroke="#737373" stroke-width="0.9"/>
<line x1="347.15" y1="215.3" x2="347.15" y2="217.7" stroke="#737373" stroke-width="0.9"/>
<line x1="365.67" y1="215.3" x2="365.67" y2="217.7" stroke="#737373" stroke-width="0.9"/>
<line x1="384.18" y1="215.3" x2="384.18" y2="217.7" stroke="#737373" stroke-width="0.9"/>
<line x1="402.7" y1="215.3" x2="402.7" y2="217.7" stroke="#737373" stroke-width="0.9"/>
<line x1="421.22" y1="215.3" x2="421.22" y2="217.7" stroke="#737373" stroke-width="0.9"/>
<line x1="439.73" y1="215.3" x2="439.73" y2="217.7" stroke="#737373" stroke-width="0.9"/>
<line x1="458.25" y1="215.3" x2="458.25" y2="217.7" stroke="#737373" stroke-width="0.9"/>
<line x1="476.77" y1="215.3" x2="476.77" y2="217.7" stroke="#737373" stroke-width="0.9"/>
<line x1="495.28" y1="215.3" x2="495.28" y2="217.7" stroke="#737373" stroke-width="0.9"/>
<line x1="513.8" y1="215.3" x2="513.8" y2="217.7" stroke="#737373" stroke-width="0.9"/>
<line x1="289.4" y1="227.48" x2="291.6" y2="227.48" stroke="#737373" stroke-width="1"/>
<text x="284.3" y="230.98" text-anchor="end" font-family='"Liberation Serif", serif' font-size="8.6" fill="#1a1a1a" stroke="#1a1a1a" stroke-width="0.22">-2</text>
<line x1="289.4" y1="209.51" x2="291.6" y2="209.51" stroke="#737373" stroke-width="1"/>
<text x="284.3" y="213.01" text-anchor="end" font-family='"Liberation Serif", serif' font-size="8.6" fill="#1a1a1a" stroke="#1a1a1a" stroke-width="0.22">1</text>
<line x1="289.4" y1="191.54" x2="291.6" y2="191.54" stroke="#737373" stroke-width="1"/>
<text x="284.3" y="195.04" text-anchor="end" font-family='"Liberation Serif", serif' font-size="8.6" fill="#1a1a1a" stroke="#1a1a1a" stroke-width="0.22">4</text>
<line x1="289.4" y1="173.57" x2="291.6" y2="173.57" stroke="#737373" stroke-width="1"/>
<text x="284.3" y="177.07" text-anchor="end" font-family='"Liberation Serif", serif' font-size="8.6" fill="#1a1a1a" stroke="#1a1a1a" stroke-width="0.22">7</text>
<line x1="289.4" y1="155.6" x2="291.6" y2="155.6" stroke="#737373" stroke-width="1"/>
<text x="284.3" y="159.1" text-anchor="end" font-family='"Liberation Serif", serif' font-size="8.6" fill="#1a1a1a" stroke="#1a1a1a" stroke-width="0.22">10</text>
<line x1="289.4" y1="137.63" x2="291.6" y2="137.63" stroke="#737373" stroke-width="1"/>
<text x="284.3" y="141.13" text-anchor="end" font-family='"Liberation Serif", serif' font-size="8.6" fill="#1a1a1a" stroke="#1a1a1a" stroke-width="0.22">13</text>
<line x1="289.4" y1="119.66" x2="291.6" y2="119.66" stroke="#737373" stroke-width="1"/>
<text x="284.3" y="123.16" text-anchor="end" font-family='"Liberation Serif", serif' font-size="8.6" fill="#1a1a1a" stroke="#1a1a1a" stroke-width="0.22">16</text>
<line x1="289.4" y1="101.69" x2="291.6" y2="101.69" stroke="#737373" stroke-width="1"/>
<text x="284.3" y="105.19" text-anchor="end" font-family='"Liberation Serif", serif' font-size="8.6" fill="#1a1a1a" stroke="#1a1a1a" stroke-width="0.22">19</text>
<line x1="289.4" y1="83.72" x2="291.6" y2="83.72" stroke="#737373" stroke-width="1"/>
<text x="284.3" y="87.22" text-anchor="end" font-family='"Liberation Serif", serif' font-size="8.6" fill="#1a1a1a" stroke="#1a1a1a" stroke-width="0.22">22</text>
<line x1="289.4" y1="65.75" x2="291.6" y2="65.75" stroke="#737373" stroke-width="1"/>
<text x="284.3" y="69.25" text-anchor="end" font-family='"Liberation Serif", serif' font-size="8.6" fill="#1a1a1a" stroke="#1a1a1a" stroke-width="0.22">25</text>
<line x1="289.4" y1="47.78" x2="291.6" y2="47.78" stroke="#737373" stroke-width="1"/>
<text x="284.3" y="51.28" text-anchor="end" font-family='"Liberation Serif", serif' font-size="8.6" fill="#1a1a1a" stroke="#1a1a1a" stroke-width="0.22">28</text>
<line x1="289.4" y1="29.81" x2="291.6" y2="29.81" stroke="#737373" stroke-width="1"/>
<text x="284.3" y="33.31" text-anchor="end" font-family='"Liberation Serif", serif' font-size="8.6" fill="#1a1a1a" stroke="#1a1a1a" stroke-width="0.22">31</text>
<line x1="289.4" y1="11.84" x2="291.6" y2="11.84" stroke="#737373" stroke-width="1"/>
<text x="284.3" y="15.34" text-anchor="end" font-family='"Liberation Serif", serif' font-size="8.6" fill="#1a1a1a" stroke="#1a1a1a" stroke-width="0.22">34</text>
<line x1="513.8" y1="228" x2="516" y2="228" stroke="#737373" stroke-width="1"/>
<text x="520.9" y="231.5" font-family='"Liberation Serif", serif' font-size="8.6" fill="#1a1a1a" stroke="#1a1a1a" stroke-width="0.22">-15</text>
<line x1="513.8" y1="207" x2="516" y2="207" stroke="#737373" stroke-width="1"/>
<text x="520.9" y="210.5" font-family='"Liberation Serif", serif' font-size="8.6" fill="#1a1a1a" stroke="#1a1a1a" stroke-width="0.22">10</text>
<line x1="513.8" y1="186" x2="516" y2="186" stroke="#737373" stroke-width="1"/>
<text x="520.9" y="189.5" font-family='"Liberation Serif", serif' font-size="8.6" fill="#1a1a1a" stroke="#1a1a1a" stroke-width="0.22">35</text>
<line x1="513.8" y1="165" x2="516" y2="165" stroke="#737373" stroke-width="1"/>
<text x="520.9" y="168.5" font-family='"Liberation Serif", serif' font-size="8.6" fill="#1a1a1a" stroke="#1a1a1a" stroke-width="0.22">60</text>
<line x1="513.8" y1="144" x2="516" y2="144" stroke="#737373" stroke-width="1"/>
<text x="520.9" y="147.5" font-family='"Liberation Serif", serif' font-size="8.6" fill="#1a1a1a" stroke="#1a1a1a" stroke-width="0.22">85</text>
<line x1="513.8" y1="123" x2="516" y2="123" stroke="#737373" stroke-width="1"/>
<text x="520.9" y="126.5" font-family='"Liberation Serif", serif' font-size="8.6" fill="#1a1a1a" stroke="#1a1a1a" stroke-width="0.22">110</text>
<line x1="513.8" y1="102" x2="516" y2="102" stroke="#737373" stroke-width="1"/>
<text x="520.9" y="105.5" font-family='"Liberation Serif", serif' font-size="8.6" fill="#1a1a1a" stroke="#1a1a1a" stroke-width="0.22">135</text>
<line x1="513.8" y1="81" x2="516" y2="81" stroke="#737373" stroke-width="1"/>
<text x="520.9" y="84.5" font-family='"Liberation Serif", serif' font-size="8.6" fill="#1a1a1a" stroke="#1a1a1a" stroke-width="0.22">160</text>
<line x1="513.8" y1="60" x2="516" y2="60" stroke="#737373" stroke-width="1"/>
<text x="520.9" y="63.5" font-family='"Liberation Serif", serif' font-size="8.6" fill="#1a1a1a" stroke="#1a1a1a" stroke-width="0.22">185</text>
<line x1="513.8" y1="39" x2="516" y2="39" stroke="#737373" stroke-width="1"/>
<text x="520.9" y="42.5" font-family='"Liberation Serif", serif' font-size="8.6" fill="#1a1a1a" stroke="#1a1a1a" stroke-width="0.22">210</text>
<line x1="513.8" y1="18" x2="516" y2="18" stroke="#737373" stroke-width="1"/>
<text x="520.9" y="21.5" font-family='"Liberation Serif", serif' font-size="8.6" fill="#1a1a1a" stroke="#1a1a1a" stroke-width="0.22">235</text>
<text x="304.5" y="18.1" font-family='"Liberation Serif", serif' font-size="8.6" fill="#111" stroke="#111" stroke-width="0.25" textLength="26.9" lengthAdjust="spacingAndGlyphs">CEZAC</text>
<rect x="30.37" y="456.7" width="2.75" height="5.1" fill="url(#pc)" stroke="#00B0F0" stroke-width="1"/>
<rect x="49.11" y="401.8" width="2.75" height="60" fill="url(#pc)" stroke="#00B0F0" stroke-width="1"/>
<rect x="142.77" y="372" width="2.75" height="89.8" fill="url(#pc)" stroke="#00B0F0" stroke-width="1"/>
<rect x="161.51" y="346.7" width="2.75" height="115.1" fill="url(#pc)" stroke="#00B0F0" stroke-width="1"/>
<rect x="180.24" y="408.9" width="2.75" height="52.9" fill="url(#pc)" stroke="#00B0F0" stroke-width="1"/>
<rect x="198.97" y="443.2" width="2.75" height="18.6" fill="url(#pc)" stroke="#00B0F0" stroke-width="1"/>
<rect x="217.71" y="460.5" width="2.75" height="1.3" fill="url(#pc)" stroke="#00B0F0" stroke-width="1"/>
<rect x="236.44" y="452" width="2.75" height="9.8" fill="url(#pc)" stroke="#00B0F0" stroke-width="1"/>
<rect x="34.12" y="453.1" width="2.75" height="8.7" fill="url(#pp)" stroke="#8050B8" stroke-width="1"/>
<rect x="52.85" y="392" width="2.75" height="69.8" fill="url(#pp)" stroke="#8050B8" stroke-width="1"/>
<rect x="71.59" y="461.5" width="2.75" height="0.3" fill="url(#pp)" stroke="#8050B8" stroke-width="1"/>
<rect x="90.32" y="460.7" width="2.75" height="1.1" fill="url(#pp)" stroke="#8050B8" stroke-width="1"/>
<rect x="109.05" y="461.5" width="2.75" height="0.3" fill="url(#pp)" stroke="#8050B8" stroke-width="1"/>
<rect x="127.79" y="440.9" width="2.75" height="20.9" fill="url(#pp)" stroke="#8050B8" stroke-width="1"/>
<rect x="146.52" y="347.9" width="2.75" height="113.9" fill="url(#pp)" stroke="#8050B8" stroke-width="1"/>
<rect x="165.25" y="432.2" width="2.75" height="29.6" fill="url(#pp)" stroke="#8050B8" stroke-width="1"/>
<rect x="183.99" y="341.7" width="2.75" height="120.1" fill="url(#pp)" stroke="#8050B8" stroke-width="1"/>
<rect x="37.87" y="443.1" width="2.75" height="18.7" fill="url(#pg)" stroke="#7E7E7E" stroke-width="1"/>
<rect x="56.6" y="405" width="2.75" height="56.8" fill="url(#pg)" stroke="#7E7E7E" stroke-width="1"/>
<rect x="75.33" y="399.2" width="2.75" height="62.6" fill="url(#pg)" stroke="#7E7E7E" stroke-width="1"/>
<rect x="94.07" y="458.8" width="2.75" height="3" fill="url(#pg)" stroke="#7E7E7E" stroke-width="1"/>
<rect x="112.8" y="453.5" width="2.75" height="8.3" fill="url(#pg)" stroke="#7E7E7E" stroke-width="1"/>
<rect x="131.53" y="351.3" width="2.75" height="110.5" fill="url(#pg)" stroke="#7E7E7E" stroke-width="1"/>
<rect x="169" y="410.6" width="2.75" height="51.2" fill="url(#pg)" stroke="#7E7E7E" stroke-width="1"/>
<rect x="187.73" y="351.5" width="2.75" height="110.3" fill="url(#pg)" stroke="#7E7E7E" stroke-width="1"/>
<rect x="206.47" y="330.9" width="2.75" height="130.9" fill="url(#pg)" stroke="#7E7E7E" stroke-width="1"/>
<rect x="225.2" y="448" width="2.75" height="13.8" fill="url(#pg)" stroke="#7E7E7E" stroke-width="1"/>
<rect x="243.93" y="447.2" width="2.75" height="14.6" fill="url(#pg)" stroke="#7E7E7E" stroke-width="1"/>
<rect x="41.61" y="443.1" width="2.75" height="18.7" fill="url(#pn)" stroke="#20B060" stroke-width="1"/>
<rect x="60.35" y="449" width="2.75" height="12.8" fill="url(#pn)" stroke="#20B060" stroke-width="1"/>
<rect x="116.55" y="456.3" width="2.75" height="5.5" fill="url(#pn)" stroke="#20B060" stroke-width="1"/>
<rect x="135.28" y="425.8" width="2.75" height="36" fill="url(#pn)" stroke="#20B060" stroke-width="1"/>
<rect x="154.01" y="322.8" width="2.75" height="139" fill="url(#pn)" stroke="#20B060" stroke-width="1"/>
<rect x="172.75" y="429.3" width="2.75" height="32.5" fill="url(#pn)" stroke="#20B060" stroke-width="1"/>
<rect x="191.48" y="429.3" width="2.75" height="32.5" fill="url(#pn)" stroke="#20B060" stroke-width="1"/>
<rect x="247.68" y="459.2" width="2.75" height="2.6" fill="url(#pn)" stroke="#20B060" stroke-width="1"/>
<clipPath id="clipEMAN"><rect x="24" y="242" width="232.8" height="219.8"/></clipPath><g clip-path="url(#clipEMAN)">
<polyline points="37.37,322.4 56.1,329.6 74.83,310 93.57,277.1 112.3,271.1 131.03,262.4 149.77,288.5 168.5,299.2 187.23,294.9 205.97,299.3 224.7,307.3 243.43,324.7" fill="none" stroke="#4472C4" stroke-width="1.1" stroke-dasharray="2.6 1.8"/><path d="M35.37 320.4L39.37 324.4M39.37 320.4L35.37 324.4M37.37 320.1L37.37 324.7" stroke="#2F4F9F" stroke-width="1.1" fill="none"/><path d="M54.1 327.6L58.1 331.6M58.1 327.6L54.1 331.6M56.1 327.3L56.1 331.9" stroke="#2F4F9F" stroke-width="1.1" fill="none"/><path d="M72.83 308L76.83 312M76.83 308L72.83 312M74.83 307.7L74.83 312.3" stroke="#2F4F9F" stroke-width="1.1" fill="none"/><path d="M91.57 275.1L95.57 279.1M95.57 275.1L91.57 279.1M93.57 274.8L93.57 279.4" stroke="#2F4F9F" stroke-width="1.1" fill="none"/><path d="M110.3 269.1L114.3 273.1M114.3 269.1L110.3 273.1M112.3 268.8L112.3 273.4" stroke="#2F4F9F" stroke-width="1.1" fill="none"/><path d="M129.03 260.4L133.03 264.4M133.03 260.4L129.03 264.4M131.03 260.1L131.03 264.7" stroke="#2F4F9F" stroke-width="1.1" fill="none"/><path d="M147.77 286.5L151.77 290.5M151.77 286.5L147.77 290.5M149.77 286.2L149.77 290.8" stroke="#2F4F9F" stroke-width="1.1" fill="none"/><path d="M166.5 297.2L170.5 301.2M170.5 297.2L166.5 301.2M168.5 296.9L168.5 301.5" stroke="#2F4F9F" stroke-width="1.1" fill="none"/><path d="M185.23 292.9L189.23 296.9M189.23 292.9L185.23 296.9M187.23 292.6L187.23 297.2" stroke="#2F4F9F" stroke-width="1.1" fill="none"/><path d="M203.97 297.3L207.97 301.3M207.97 297.3L203.97 301.3M205.97 297L205.97 301.6" stroke="#2F4F9F" stroke-width="1.1" fill="none"/><path d="M222.7 305.3L226.7 309.3M226.7 305.3L222.7 309.3M224.7 305L224.7 309.6" stroke="#2F4F9F" stroke-width="1.1" fill="none"/><path d="M241.43 322.7L245.43 326.7M245.43 322.7L241.43 326.7M243.43 322.4L243.43 327" stroke="#2F4F9F" stroke-width="1.1" fill="none"/>
<polyline points="37.37,336.6 56.1,341 74.83,311.2 93.57,284.4 112.3,264.3 131.03,271.8 149.77,295.1 168.5,281.7 187.23,293.2 205.97,290.3 224.7,307.3 243.43,317.9" fill="none" stroke="#00B27A" stroke-width="1.35" stroke-dasharray="1.8 1.6"/><circle cx="37.37" cy="336.6" r="1.6" fill="#00B070"/><circle cx="56.1" cy="341" r="1.6" fill="#00B070"/><circle cx="74.83" cy="311.2" r="1.6" fill="#00B070"/><circle cx="93.57" cy="284.4" r="1.6" fill="#00B070"/><circle cx="112.3" cy="264.3" r="1.6" fill="#00B070"/><circle cx="131.03" cy="271.8" r="1.6" fill="#00B070"/><circle cx="149.77" cy="295.1" r="1.6" fill="#00B070"/><circle cx="168.5" cy="281.7" r="1.6" fill="#00B070"/><circle cx="187.23" cy="293.2" r="1.6" fill="#00B070"/><circle cx="205.97" cy="290.3" r="1.6" fill="#00B070"/><circle cx="224.7" cy="307.3" r="1.6" fill="#00B070"/><circle cx="243.43" cy="317.9" r="1.6" fill="#00B070"/>
<polyline points="37.37,324.1 56.1,316.3 74.83,318.6 93.57,288.7 112.3,273 131.03,288.1 149.77,291.5 168.5,278.4 187.23,286.5 205.97,299.3 224.7,297.5 243.43,322.5" fill="none" stroke="#7030A0" stroke-width="1.0" stroke-dasharray="3 2 1 2"/><circle cx="37.37" cy="324.1" r="1.6" fill="#5B1E9A"/><circle cx="56.1" cy="316.3" r="1.6" fill="#5B1E9A"/><circle cx="74.83" cy="318.6" r="1.6" fill="#5B1E9A"/><circle cx="93.57" cy="288.7" r="1.6" fill="#5B1E9A"/><circle cx="112.3" cy="273" r="1.6" fill="#5B1E9A"/><circle cx="131.03" cy="288.1" r="1.6" fill="#5B1E9A"/><circle cx="149.77" cy="291.5" r="1.6" fill="#5B1E9A"/><circle cx="168.5" cy="278.4" r="1.6" fill="#5B1E9A"/><circle cx="187.23" cy="286.5" r="1.6" fill="#5B1E9A"/><circle cx="205.97" cy="299.3" r="1.6" fill="#5B1E9A"/><circle cx="224.7" cy="297.5" r="1.6" fill="#5B1E9A"/><circle cx="243.43" cy="322.5" r="1.6" fill="#5B1E9A"/>
<polyline points="37.37,447.9 56.1,421.8 74.83,436.5 93.57,412.1 112.3,407.7 131.03,382.5 149.77,375.5 168.5,381.6 187.23,396.2 205.97,406 224.7,447.5 243.43,448.4" fill="none" stroke="#3A9A3A" stroke-width="1.0" stroke-dasharray="4.5 2.5"/><circle cx="37.37" cy="447.9" r="1.6" fill="#2E8B2E"/><circle cx="56.1" cy="421.8" r="1.6" fill="#2E8B2E"/><circle cx="74.83" cy="436.5" r="1.6" fill="#2E8B2E"/><circle cx="93.57" cy="412.1" r="1.6" fill="#2E8B2E"/><circle cx="112.3" cy="407.7" r="1.6" fill="#2E8B2E"/><circle cx="131.03" cy="382.5" r="1.6" fill="#2E8B2E"/><circle cx="149.77" cy="375.5" r="1.6" fill="#2E8B2E"/><circle cx="168.5" cy="381.6" r="1.6" fill="#2E8B2E"/><circle cx="187.23" cy="396.2" r="1.6" fill="#2E8B2E"/><circle cx="205.97" cy="406" r="1.6" fill="#2E8B2E"/><circle cx="224.7" cy="447.5" r="1.6" fill="#2E8B2E"/><circle cx="243.43" cy="448.4" r="1.6" fill="#2E8B2E"/>
<polyline points="37.37,455.7 56.1,444 74.83,441.7 93.57,418.8 112.3,400 131.03,378.4 149.77,376 168.5,382.7 187.23,383.2 205.97,440.7 224.7,470 243.43,472" fill="none" stroke="#F08040" stroke-width="1.0" stroke-dasharray="2.5 2.5 1 2.5"/><circle cx="37.37" cy="455.7" r="1.6" fill="#F07020"/><circle cx="56.1" cy="444" r="1.6" fill="#F07020"/><circle cx="74.83" cy="441.7" r="1.6" fill="#F07020"/><circle cx="93.57" cy="418.8" r="1.6" fill="#F07020"/><circle cx="112.3" cy="400" r="1.6" fill="#F07020"/><circle cx="131.03" cy="378.4" r="1.6" fill="#F07020"/><circle cx="149.77" cy="376" r="1.6" fill="#F07020"/><circle cx="168.5" cy="382.7" r="1.6" fill="#F07020"/><circle cx="187.23" cy="383.2" r="1.6" fill="#F07020"/><circle cx="205.97" cy="440.7" r="1.6" fill="#F07020"/><circle cx="224.7" cy="470" r="1.6" fill="#F07020"/><circle cx="243.43" cy="472" r="1.6" fill="#F07020"/>
<polyline points="37.37,329 56.1,311.2 74.83,278.8 93.57,268.5 112.3,269.6 131.03,270.7 149.77,285.6 168.5,284.6 187.23,292.3 205.97,283.3 224.7,297.5 243.43,320.8" fill="none" stroke="#FFC000" stroke-width="1.3" stroke-dasharray="5 2.5"/><circle cx="37.37" cy="329" r="1.6" fill="#FFB000"/><circle cx="56.1" cy="311.2" r="1.6" fill="#FFB000"/><circle cx="74.83" cy="278.8" r="1.6" fill="#FFB000"/><circle cx="93.57" cy="268.5" r="1.6" fill="#FFB000"/><circle cx="112.3" cy="269.6" r="1.6" fill="#FFB000"/><circle cx="131.03" cy="270.7" r="1.6" fill="#FFB000"/><circle cx="149.77" cy="285.6" r="1.6" fill="#FFB000"/><circle cx="168.5" cy="284.6" r="1.6" fill="#FFB000"/><circle cx="187.23" cy="292.3" r="1.6" fill="#FFB000"/><circle cx="205.97" cy="283.3" r="1.6" fill="#FFB000"/><circle cx="224.7" cy="297.5" r="1.6" fill="#FFB000"/><circle cx="243.43" cy="320.8" r="1.6" fill="#FFB000"/>
<polyline points="37.37,443 56.1,439.4 74.83,424.8 93.57,405.3 112.3,390.9 131.03,375.1 149.77,386.9 168.5,386 187.23,390 205.97,408.4 224.7,421.1 243.43,445.5" fill="none" stroke="#20AAF0" stroke-width="1.3" stroke-dasharray="5 2.5 1 2.5"/><path d="M37.37 440.8L39.37 444.5L35.37 444.5Z" fill="#1060C8"/><path d="M56.1 437.2L58.1 440.9L54.1 440.9Z" fill="#1060C8"/><path d="M74.83 422.6L76.83 426.3L72.83 426.3Z" fill="#1060C8"/><path d="M93.57 403.1L95.57 406.8L91.57 406.8Z" fill="#1060C8"/><path d="M112.3 388.7L114.3 392.4L110.3 392.4Z" fill="#1060C8"/><path d="M131.03 372.9L133.03 376.6L129.03 376.6Z" fill="#1060C8"/><path d="M149.77 384.7L151.77 388.4L147.77 388.4Z" fill="#1060C8"/><path d="M168.5 383.8L170.5 387.5L166.5 387.5Z" fill="#1060C8"/><path d="M187.23 387.8L189.23 391.5L185.23 391.5Z" fill="#1060C8"/><path d="M205.97 406.2L207.97 409.9L203.97 409.9Z" fill="#1060C8"/><path d="M224.7 418.9L226.7 422.6L222.7 422.6Z" fill="#1060C8"/><path d="M243.43 443.3L245.43 447L241.43 447Z" fill="#1060C8"/>
<polyline points="37.37,446 56.1,433.9 74.83,412.6 93.57,406.8 112.3,403 131.03,379 149.77,372.9 168.5,385.5 187.23,390 205.97,438.3 224.7,445.5 243.43,454.7" fill="none" stroke="#2060D0" stroke-width="1.0" stroke-dasharray="1.6 1.6"/><rect x="35.87" y="444.5" width="3" height="3" fill="#1F5FCF"/><rect x="54.6" y="432.4" width="3" height="3" fill="#1F5FCF"/><rect x="73.33" y="411.1" width="3" height="3" fill="#1F5FCF"/><rect x="92.07" y="405.3" width="3" height="3" fill="#1F5FCF"/><rect x="110.8" y="401.5" width="3" height="3" fill="#1F5FCF"/><rect x="129.53" y="377.5" width="3" height="3" fill="#1F5FCF"/><rect x="148.27" y="371.4" width="3" height="3" fill="#1F5FCF"/><rect x="167" y="384" width="3" height="3" fill="#1F5FCF"/><rect x="185.73" y="388.5" width="3" height="3" fill="#1F5FCF"/><rect x="204.47" y="436.8" width="3" height="3" fill="#1F5FCF"/><rect x="223.2" y="444" width="3" height="3" fill="#1F5FCF"/><rect x="241.93" y="453.2" width="3" height="3" fill="#1F5FCF"/>
</g>
<line x1="28" y1="246" x2="28" y2="461.8" stroke="#5A5A5A" stroke-width="1.3"/>
<line x1="252.8" y1="246" x2="252.8" y2="461.8" stroke="#5A5A5A" stroke-width="1.3"/>
<line x1="28" y1="461.8" x2="252.8" y2="461.8" stroke="#404040" stroke-width="1.1"/>
<line x1="28" y1="461.8" x2="28" y2="464.2" stroke="#5A5A5A" stroke-width="0.9"/>
<line x1="46.73" y1="461.8" x2="46.73" y2="464.2" stroke="#5A5A5A" stroke-width="0.9"/>
<line x1="65.47" y1="461.8" x2="65.47" y2="464.2" stroke="#5A5A5A" stroke-width="0.9"/>
<line x1="84.2" y1="461.8" x2="84.2" y2="464.2" stroke="#5A5A5A" stroke-width="0.9"/>
<line x1="102.93" y1="461.8" x2="102.93" y2="464.2" stroke="#5A5A5A" stroke-width="0.9"/>
<line x1="121.67" y1="461.8" x2="121.67" y2="464.2" stroke="#5A5A5A" stroke-width="0.9"/>
<line x1="140.4" y1="461.8" x2="140.4" y2="464.2" stroke="#5A5A5A" stroke-width="0.9"/>
<line x1="159.13" y1="461.8" x2="159.13" y2="464.2" stroke="#5A5A5A" stroke-width="0.9"/>
<line x1="177.87" y1="461.8" x2="177.87" y2="464.2" stroke="#5A5A5A" stroke-width="0.9"/>
<line x1="196.6" y1="461.8" x2="196.6" y2="464.2" stroke="#5A5A5A" stroke-width="0.9"/>
<line x1="215.33" y1="461.8" x2="215.33" y2="464.2" stroke="#5A5A5A" stroke-width="0.9"/>
<line x1="234.07" y1="461.8" x2="234.07" y2="464.2" stroke="#5A5A5A" stroke-width="0.9"/>
<line x1="252.8" y1="461.8" x2="252.8" y2="464.2" stroke="#5A5A5A" stroke-width="0.9"/>
<line x1="25" y1="461.8" x2="28" y2="461.8" stroke="#5A5A5A" stroke-width="1"/>
<text x="20.8" y="464.9" text-anchor="end" font-family='"Liberation Sans", sans-serif' font-size="7.6" fill="#1a1a1a" stroke="#1a1a1a" stroke-width="0.22" textLength="3.7" lengthAdjust="spacingAndGlyphs">0</text>
<line x1="25" y1="442.13" x2="28" y2="442.13" stroke="#5A5A5A" stroke-width="1"/>
<text x="20.8" y="445.24" text-anchor="end" font-family='"Liberation Sans", sans-serif' font-size="7.6" fill="#1a1a1a" stroke="#1a1a1a" stroke-width="0.22" textLength="3.7" lengthAdjust="spacingAndGlyphs">3</text>
<line x1="25" y1="422.47" x2="28" y2="422.47" stroke="#5A5A5A" stroke-width="1"/>
<text x="20.8" y="425.57" text-anchor="end" font-family='"Liberation Sans", sans-serif' font-size="7.6" fill="#1a1a1a" stroke="#1a1a1a" stroke-width="0.22" textLength="3.7" lengthAdjust="spacingAndGlyphs">6</text>
<line x1="25" y1="402.81" x2="28" y2="402.81" stroke="#5A5A5A" stroke-width="1"/>
<text x="20.8" y="405.91" text-anchor="end" font-family='"Liberation Sans", sans-serif' font-size="7.6" fill="#1a1a1a" stroke="#1a1a1a" stroke-width="0.22" textLength="3.7" lengthAdjust="spacingAndGlyphs">9</text>
<line x1="25" y1="383.14" x2="28" y2="383.14" stroke="#5A5A5A" stroke-width="1"/>
<text x="20.8" y="386.24" text-anchor="end" font-family='"Liberation Sans", sans-serif' font-size="7.6" fill="#1a1a1a" stroke="#1a1a1a" stroke-width="0.22" textLength="7.7" lengthAdjust="spacingAndGlyphs">12</text>
<line x1="25" y1="363.48" x2="28" y2="363.48" stroke="#5A5A5A" stroke-width="1"/>
<text x="20.8" y="366.58" text-anchor="end" font-family='"Liberation Sans", sans-serif' font-size="7.6" fill="#1a1a1a" stroke="#1a1a1a" stroke-width="0.22" textLength="7.7" lengthAdjust="spacingAndGlyphs">15</text>
<line x1="25" y1="343.81" x2="28" y2="343.81" stroke="#5A5A5A" stroke-width="1"/>
<text x="20.8" y="346.91" text-anchor="end" font-family='"Liberation Sans", sans-serif' font-size="7.6" fill="#1a1a1a" stroke="#1a1a1a" stroke-width="0.22" textLength="7.7" lengthAdjust="spacingAndGlyphs">18</text>
<line x1="25" y1="324.14" x2="28" y2="324.14" stroke="#5A5A5A" stroke-width="1"/>
<text x="20.8" y="327.25" text-anchor="end" font-family='"Liberation Sans", sans-serif' font-size="7.6" fill="#1a1a1a" stroke="#1a1a1a" stroke-width="0.22" textLength="7.7" lengthAdjust="spacingAndGlyphs">21</text>
<line x1="25" y1="304.48" x2="28" y2="304.48" stroke="#5A5A5A" stroke-width="1"/>
<text x="20.8" y="307.58" text-anchor="end" font-family='"Liberation Sans", sans-serif' font-size="7.6" fill="#1a1a1a" stroke="#1a1a1a" stroke-width="0.22" textLength="7.7" lengthAdjust="spacingAndGlyphs">24</text>
<line x1="25" y1="284.82" x2="28" y2="284.82" stroke="#5A5A5A" stroke-width="1"/>
<text x="20.8" y="287.92" text-anchor="end" font-family='"Liberation Sans", sans-serif' font-size="7.6" fill="#1a1a1a" stroke="#1a1a1a" stroke-width="0.22" textLength="7.7" lengthAdjust="spacingAndGlyphs">27</text>
<line x1="25" y1="265.15" x2="28" y2="265.15" stroke="#5A5A5A" stroke-width="1"/>
<text x="20.8" y="268.25" text-anchor="end" font-family='"Liberation Sans", sans-serif' font-size="7.6" fill="#1a1a1a" stroke="#1a1a1a" stroke-width="0.22" textLength="7.7" lengthAdjust="spacingAndGlyphs">30</text>
<line x1="25" y1="245.49" x2="28" y2="245.49" stroke="#5A5A5A" stroke-width="1"/>
<text x="20.8" y="248.59" text-anchor="end" font-family='"Liberation Sans", sans-serif' font-size="7.6" fill="#1a1a1a" stroke="#1a1a1a" stroke-width="0.22" textLength="7.7" lengthAdjust="spacingAndGlyphs">33</text>
<line x1="252.8" y1="461.8" x2="255.8" y2="461.8" stroke="#5A5A5A" stroke-width="1"/>
<text x="260.8" y="464.9" font-family='"Liberation Sans", sans-serif' font-size="7.6" fill="#1a1a1a" stroke="#1a1a1a" stroke-width="0.22" textLength="3.7" lengthAdjust="spacingAndGlyphs">0</text>
<line x1="252.8" y1="438.3" x2="255.8" y2="438.3" stroke="#5A5A5A" stroke-width="1"/>
<text x="260.8" y="441.4" font-family='"Liberation Sans", sans-serif' font-size="7.6" fill="#1a1a1a" stroke="#1a1a1a" stroke-width="0.22" textLength="7.7" lengthAdjust="spacingAndGlyphs">25</text>
<line x1="252.8" y1="414.8" x2="255.8" y2="414.8" stroke="#5A5A5A" stroke-width="1"/>
<text x="260.8" y="417.9" font-family='"Liberation Sans", sans-serif' font-size="7.6" fill="#1a1a1a" stroke="#1a1a1a" stroke-width="0.22" textLength="7.7" lengthAdjust="spacingAndGlyphs">50</text>
<line x1="252.8" y1="391.3" x2="255.8" y2="391.3" stroke="#5A5A5A" stroke-width="1"/>
<text x="260.8" y="394.4" font-family='"Liberation Sans", sans-serif' font-size="7.6" fill="#1a1a1a" stroke="#1a1a1a" stroke-width="0.22" textLength="7.7" lengthAdjust="spacingAndGlyphs">75</text>
<line x1="252.8" y1="367.8" x2="255.8" y2="367.8" stroke="#5A5A5A" stroke-width="1"/>
<text x="260.8" y="370.9" font-family='"Liberation Sans", sans-serif' font-size="7.6" fill="#1a1a1a" stroke="#1a1a1a" stroke-width="0.22" textLength="11.7" lengthAdjust="spacingAndGlyphs">100</text>
<line x1="252.8" y1="344.3" x2="255.8" y2="344.3" stroke="#5A5A5A" stroke-width="1"/>
<text x="260.8" y="347.4" font-family='"Liberation Sans", sans-serif' font-size="7.6" fill="#1a1a1a" stroke="#1a1a1a" stroke-width="0.22" textLength="11.7" lengthAdjust="spacingAndGlyphs">125</text>
<line x1="252.8" y1="320.8" x2="255.8" y2="320.8" stroke="#5A5A5A" stroke-width="1"/>
<text x="260.8" y="323.9" font-family='"Liberation Sans", sans-serif' font-size="7.6" fill="#1a1a1a" stroke="#1a1a1a" stroke-width="0.22" textLength="11.7" lengthAdjust="spacingAndGlyphs">150</text>
<line x1="252.8" y1="297.3" x2="255.8" y2="297.3" stroke="#5A5A5A" stroke-width="1"/>
<text x="260.8" y="300.4" font-family='"Liberation Sans", sans-serif' font-size="7.6" fill="#1a1a1a" stroke="#1a1a1a" stroke-width="0.22" textLength="11.7" lengthAdjust="spacingAndGlyphs">175</text>
<line x1="252.8" y1="273.8" x2="255.8" y2="273.8" stroke="#5A5A5A" stroke-width="1"/>
<text x="260.8" y="276.9" font-family='"Liberation Sans", sans-serif' font-size="7.6" fill="#1a1a1a" stroke="#1a1a1a" stroke-width="0.22" textLength="11.7" lengthAdjust="spacingAndGlyphs">200</text>
<line x1="252.8" y1="250.3" x2="255.8" y2="250.3" stroke="#5A5A5A" stroke-width="1"/>
<text x="260.8" y="253.4" font-family='"Liberation Sans", sans-serif' font-size="7.6" fill="#1a1a1a" stroke="#1a1a1a" stroke-width="0.22" textLength="11.7" lengthAdjust="spacingAndGlyphs">225</text>
<text x="41.6" y="255.2" font-family='"Liberation Serif", serif' font-size="8.6" fill="#111" stroke="#111" stroke-width="0.25" textLength="24" lengthAdjust="spacingAndGlyphs">EMAN</text>
<text x="37.37" y="475.2" text-anchor="middle" font-family='"Liberation Sans", sans-serif' font-size="7.2" fill="#333" stroke="#333" stroke-width="0.22">Jan</text>
<text x="56.1" y="475.2" text-anchor="middle" font-family='"Liberation Sans", sans-serif' font-size="7.2" fill="#333" stroke="#333" stroke-width="0.22">Feb</text>
<text x="74.83" y="475.2" text-anchor="middle" font-family='"Liberation Sans", sans-serif' font-size="7.2" fill="#333" stroke="#333" stroke-width="0.22">Mar</text>
<text x="93.57" y="475.2" text-anchor="middle" font-family='"Liberation Sans", sans-serif' font-size="7.2" fill="#333" stroke="#333" stroke-width="0.22">Apr</text>
<text x="112.3" y="475.2" text-anchor="middle" font-family='"Liberation Sans", sans-serif' font-size="7.2" fill="#333" stroke="#333" stroke-width="0.22">May</text>
<text x="131.03" y="475.2" text-anchor="middle" font-family='"Liberation Sans", sans-serif' font-size="7.2" fill="#333" stroke="#333" stroke-width="0.22">Jun</text>
<text x="149.77" y="475.2" text-anchor="middle" font-family='"Liberation Sans", sans-serif' font-size="7.2" fill="#333" stroke="#333" stroke-width="0.22">Jul</text>
<text x="168.5" y="475.2" text-anchor="middle" font-family='"Liberation Sans", sans-serif' font-size="7.2" fill="#333" stroke="#333" stroke-width="0.22">Aug</text>
<text x="187.23" y="475.2" text-anchor="middle" font-family='"Liberation Sans", sans-serif' font-size="7.2" fill="#333" stroke="#333" stroke-width="0.22">Sep</text>
<text x="205.97" y="475.2" text-anchor="middle" font-family='"Liberation Sans", sans-serif' font-size="7.2" fill="#333" stroke="#333" stroke-width="0.22">Oct</text>
<text x="224.7" y="475.2" text-anchor="middle" font-family='"Liberation Sans", sans-serif' font-size="7.2" fill="#333" stroke="#333" stroke-width="0.22">Nov</text>
<text x="243.43" y="475.2" text-anchor="middle" font-family='"Liberation Sans", sans-serif' font-size="7.2" fill="#333" stroke="#333" stroke-width="0.22">Dec</text>
<rect x="294.18" y="417.8" width="2.75" height="44" fill="url(#pc)" stroke="#00B0F0" stroke-width="1"/>
<rect x="350.48" y="460.5" width="2.75" height="1.3" fill="url(#pc)" stroke="#00B0F0" stroke-width="1"/>
<rect x="369.24" y="432.2" width="2.75" height="29.6" fill="url(#pc)" stroke="#00B0F0" stroke-width="1"/>
<rect x="388.01" y="426.4" width="2.75" height="35.4" fill="url(#pc)" stroke="#00B0F0" stroke-width="1"/>
<rect x="406.78" y="314.3" width="2.75" height="147.5" fill="url(#pc)" stroke="#00B0F0" stroke-width="1"/>
<rect x="425.54" y="306.8" width="2.75" height="155" fill="url(#pc)" stroke="#00B0F0" stroke-width="1"/>
<rect x="444.31" y="360.9" width="2.75" height="100.9" fill="url(#pc)" stroke="#00B0F0" stroke-width="1"/>
<rect x="463.08" y="336.2" width="2.75" height="125.6" fill="url(#pc)" stroke="#00B0F0" stroke-width="1"/>
<rect x="500.61" y="451.5" width="2.75" height="10.3" fill="url(#pc)" stroke="#00B0F0" stroke-width="1"/>
<rect x="297.93" y="457" width="2.75" height="4.8" fill="url(#pp)" stroke="#8050B8" stroke-width="1"/>
<rect x="316.7" y="416.8" width="2.75" height="45" fill="url(#pp)" stroke="#8050B8" stroke-width="1"/>
<rect x="335.46" y="461.5" width="2.75" height="0.3" fill="url(#pp)" stroke="#8050B8" stroke-width="1"/>
<rect x="391.76" y="436.5" width="2.75" height="25.3" fill="url(#pp)" stroke="#8050B8" stroke-width="1"/>
<rect x="410.53" y="316.9" width="2.75" height="144.9" fill="url(#pp)" stroke="#8050B8" stroke-width="1"/>
<rect x="429.3" y="429.8" width="2.75" height="32" fill="url(#pp)" stroke="#8050B8" stroke-width="1"/>
<rect x="448.06" y="324.7" width="2.75" height="137.1" fill="url(#pp)" stroke="#8050B8" stroke-width="1"/>
<rect x="301.68" y="435.8" width="2.75" height="26" fill="url(#pg)" stroke="#7E7E7E" stroke-width="1"/>
<rect x="320.45" y="388" width="2.75" height="73.8" fill="url(#pg)" stroke="#7E7E7E" stroke-width="1"/>
<rect x="339.22" y="402.5" width="2.75" height="59.3" fill="url(#pg)" stroke="#7E7E7E" stroke-width="1"/>
<rect x="357.98" y="453.8" width="2.75" height="8" fill="url(#pg)" stroke="#7E7E7E" stroke-width="1"/>
<rect x="376.75" y="451.4" width="2.75" height="10.4" fill="url(#pg)" stroke="#7E7E7E" stroke-width="1"/>
<rect x="395.52" y="286.8" width="2.75" height="175" fill="url(#pg)" stroke="#7E7E7E" stroke-width="1"/>
<rect x="433.05" y="390.9" width="2.75" height="70.9" fill="url(#pg)" stroke="#7E7E7E" stroke-width="1"/>
<rect x="451.82" y="396.2" width="2.75" height="65.6" fill="url(#pg)" stroke="#7E7E7E" stroke-width="1"/>
<rect x="470.58" y="403.5" width="2.75" height="58.3" fill="url(#pg)" stroke="#7E7E7E" stroke-width="1"/>
<rect x="489.35" y="460.2" width="2.75" height="1.6" fill="url(#pg)" stroke="#7E7E7E" stroke-width="1"/>
<rect x="305.44" y="444.8" width="2.75" height="17" fill="url(#pn)" stroke="#20B060" stroke-width="1"/>
<rect x="324.2" y="455.6" width="2.75" height="6.2" fill="url(#pn)" stroke="#20B060" stroke-width="1"/>
<rect x="361.74" y="461.5" width="2.75" height="0.3" fill="url(#pn)" stroke="#20B060" stroke-width="1"/>
<rect x="380.5" y="450.9" width="2.75" height="10.9" fill="url(#pn)" stroke="#20B060" stroke-width="1"/>
<rect x="399.27" y="417.8" width="2.75" height="44" fill="url(#pn)" stroke="#20B060" stroke-width="1"/>
<rect x="418.04" y="267.1" width="2.75" height="194.7" fill="url(#pn)" stroke="#20B060" stroke-width="1"/>
<rect x="436.8" y="448" width="2.75" height="13.8" fill="url(#pn)" stroke="#20B060" stroke-width="1"/>
<rect x="455.57" y="413.8" width="2.75" height="48" fill="url(#pn)" stroke="#20B060" stroke-width="1"/>
<rect x="511.87" y="460.2" width="2.75" height="1.6" fill="url(#pn)" stroke="#20B060" stroke-width="1"/>
<line x1="415.6" y1="323" x2="415.6" y2="461.5" stroke="#a0a0a0" stroke-width="0.9"/>
<clipPath id="clipGONOR"><rect x="287.8" y="242" width="233.2" height="219.8"/></clipPath><g clip-path="url(#clipGONOR)">
<polyline points="301.18,333.6 319.95,313.7 338.72,298.2 357.48,270.2 376.25,277.5 395.02,285.5 413.78,295.4 432.55,306.6 451.32,310.1 470.08,315 488.85,320.8 507.62,344.3" fill="none" stroke="#4472C4" stroke-width="1.1" stroke-dasharray="2.6 1.8"/><path d="M299.18 331.6L303.18 335.6M303.18 331.6L299.18 335.6M301.18 331.3L301.18 335.9" stroke="#2F4F9F" stroke-width="1.1" fill="none"/><path d="M317.95 311.7L321.95 315.7M321.95 311.7L317.95 315.7M319.95 311.4L319.95 316" stroke="#2F4F9F" stroke-width="1.1" fill="none"/><path d="M336.72 296.2L340.72 300.2M340.72 296.2L336.72 300.2M338.72 295.9L338.72 300.5" stroke="#2F4F9F" stroke-width="1.1" fill="none"/><path d="M355.48 268.2L359.48 272.2M359.48 268.2L355.48 272.2M357.48 267.9L357.48 272.5" stroke="#2F4F9F" stroke-width="1.1" fill="none"/><path d="M374.25 275.5L378.25 279.5M378.25 275.5L374.25 279.5M376.25 275.2L376.25 279.8" stroke="#2F4F9F" stroke-width="1.1" fill="none"/><path d="M393.02 283.5L397.02 287.5M397.02 283.5L393.02 287.5M395.02 283.2L395.02 287.8" stroke="#2F4F9F" stroke-width="1.1" fill="none"/><path d="M411.78 293.4L415.78 297.4M415.78 293.4L411.78 297.4M413.78 293.1L413.78 297.7" stroke="#2F4F9F" stroke-width="1.1" fill="none"/><path d="M430.55 304.6L434.55 308.6M434.55 304.6L430.55 308.6M432.55 304.3L432.55 308.9" stroke="#2F4F9F" stroke-width="1.1" fill="none"/><path d="M449.32 308.1L453.32 312.1M453.32 308.1L449.32 312.1M451.32 307.8L451.32 312.4" stroke="#2F4F9F" stroke-width="1.1" fill="none"/><path d="M468.08 313L472.08 317M472.08 313L468.08 317M470.08 312.7L470.08 317.3" stroke="#2F4F9F" stroke-width="1.1" fill="none"/><path d="M486.85 318.8L490.85 322.8M490.85 318.8L486.85 322.8M488.85 318.5L488.85 323.1" stroke="#2F4F9F" stroke-width="1.1" fill="none"/><path d="M505.62 342.3L509.62 346.3M509.62 342.3L505.62 346.3M507.62 342L507.62 346.6" stroke="#2F4F9F" stroke-width="1.1" fill="none"/>
<polyline points="301.18,342.8 319.95,344.5 338.72,315.1 357.48,290.4 376.25,263.7 395.02,264.5 413.78,295.4 432.55,279 451.32,299.4 470.08,298.9 488.85,315.6 507.62,322.2" fill="none" stroke="#00B27A" stroke-width="1.35" stroke-dasharray="1.8 1.6"/><circle cx="301.18" cy="342.8" r="1.6" fill="#00B070"/><circle cx="319.95" cy="344.5" r="1.6" fill="#00B070"/><circle cx="338.72" cy="315.1" r="1.6" fill="#00B070"/><circle cx="357.48" cy="290.4" r="1.6" fill="#00B070"/><circle cx="376.25" cy="263.7" r="1.6" fill="#00B070"/><circle cx="395.02" cy="264.5" r="1.6" fill="#00B070"/><circle cx="413.78" cy="295.4" r="1.6" fill="#00B070"/><circle cx="432.55" cy="279" r="1.6" fill="#00B070"/><circle cx="451.32" cy="299.4" r="1.6" fill="#00B070"/><circle cx="470.08" cy="298.9" r="1.6" fill="#00B070"/><circle cx="488.85" cy="315.6" r="1.6" fill="#00B070"/><circle cx="507.62" cy="322.2" r="1.6" fill="#00B070"/>
<polyline points="301.18,338.3 319.95,330.7 338.72,329 357.48,296.5 376.25,278 395.02,294.3 413.78,300.1 432.55,288.5 451.32,293.7 470.08,307 488.85,302.8 507.62,325.3" fill="none" stroke="#7030A0" stroke-width="1.0" stroke-dasharray="3 2 1 2"/><circle cx="301.18" cy="338.3" r="1.6" fill="#5B1E9A"/><circle cx="319.95" cy="330.7" r="1.6" fill="#5B1E9A"/><circle cx="338.72" cy="329" r="1.6" fill="#5B1E9A"/><circle cx="357.48" cy="296.5" r="1.6" fill="#5B1E9A"/><circle cx="376.25" cy="278" r="1.6" fill="#5B1E9A"/><circle cx="395.02" cy="294.3" r="1.6" fill="#5B1E9A"/><circle cx="413.78" cy="300.1" r="1.6" fill="#5B1E9A"/><circle cx="432.55" cy="288.5" r="1.6" fill="#5B1E9A"/><circle cx="451.32" cy="293.7" r="1.6" fill="#5B1E9A"/><circle cx="470.08" cy="307" r="1.6" fill="#5B1E9A"/><circle cx="488.85" cy="302.8" r="1.6" fill="#5B1E9A"/><circle cx="507.62" cy="325.3" r="1.6" fill="#5B1E9A"/>
<polyline points="301.18,432.5 319.95,423.6 338.72,408.2 357.48,391.6 376.25,382.7 395.02,377.2 413.78,376.5 432.55,378 451.32,377.9 470.08,394.8 488.85,422.9 507.62,438" fill="none" stroke="#3A9A3A" stroke-width="1.0" stroke-dasharray="4.5 2.5"/><circle cx="301.18" cy="432.5" r="1.6" fill="#2E8B2E"/><circle cx="319.95" cy="423.6" r="1.6" fill="#2E8B2E"/><circle cx="338.72" cy="408.2" r="1.6" fill="#2E8B2E"/><circle cx="357.48" cy="391.6" r="1.6" fill="#2E8B2E"/><circle cx="376.25" cy="382.7" r="1.6" fill="#2E8B2E"/><circle cx="395.02" cy="377.2" r="1.6" fill="#2E8B2E"/><circle cx="413.78" cy="376.5" r="1.6" fill="#2E8B2E"/><circle cx="432.55" cy="378" r="1.6" fill="#2E8B2E"/><circle cx="451.32" cy="377.9" r="1.6" fill="#2E8B2E"/><circle cx="470.08" cy="394.8" r="1.6" fill="#2E8B2E"/><circle cx="488.85" cy="422.9" r="1.6" fill="#2E8B2E"/><circle cx="507.62" cy="438" r="1.6" fill="#2E8B2E"/>
<polyline points="301.18,445.4 319.95,439.7 338.72,427.7 357.48,403.6 376.25,378.4 395.02,375 413.78,375 432.55,377.2 451.32,377.9 470.08,407.3 488.85,431.3 507.62,437" fill="none" stroke="#F08040" stroke-width="1.0" stroke-dasharray="2.5 2.5 1 2.5"/><circle cx="301.18" cy="445.4" r="1.6" fill="#F07020"/><circle cx="319.95" cy="439.7" r="1.6" fill="#F07020"/><circle cx="338.72" cy="427.7" r="1.6" fill="#F07020"/><circle cx="357.48" cy="403.6" r="1.6" fill="#F07020"/><circle cx="376.25" cy="378.4" r="1.6" fill="#F07020"/><circle cx="395.02" cy="375" r="1.6" fill="#F07020"/><circle cx="413.78" cy="375" r="1.6" fill="#F07020"/><circle cx="432.55" cy="377.2" r="1.6" fill="#F07020"/><circle cx="451.32" cy="377.9" r="1.6" fill="#F07020"/><circle cx="470.08" cy="407.3" r="1.6" fill="#F07020"/><circle cx="488.85" cy="431.3" r="1.6" fill="#F07020"/><circle cx="507.62" cy="437" r="1.6" fill="#F07020"/>
<polyline points="301.18,335.3 319.95,316.3 338.72,284 357.48,269.7 376.25,268.8 395.02,268.1 413.78,288.5 432.55,280 451.32,298.4 470.08,286.8 488.85,302.3 507.62,328.8" fill="none" stroke="#FFC000" stroke-width="1.3" stroke-dasharray="5 2.5"/><circle cx="301.18" cy="335.3" r="1.6" fill="#FFB000"/><circle cx="319.95" cy="316.3" r="1.6" fill="#FFB000"/><circle cx="338.72" cy="284" r="1.6" fill="#FFB000"/><circle cx="357.48" cy="269.7" r="1.6" fill="#FFB000"/><circle cx="376.25" cy="268.8" r="1.6" fill="#FFB000"/><circle cx="395.02" cy="268.1" r="1.6" fill="#FFB000"/><circle cx="413.78" cy="288.5" r="1.6" fill="#FFB000"/><circle cx="432.55" cy="280" r="1.6" fill="#FFB000"/><circle cx="451.32" cy="298.4" r="1.6" fill="#FFB000"/><circle cx="470.08" cy="286.8" r="1.6" fill="#FFB000"/><circle cx="488.85" cy="302.3" r="1.6" fill="#FFB000"/><circle cx="507.62" cy="328.8" r="1.6" fill="#FFB000"/>
<polyline points="301.18,426 319.95,424.4 338.72,416.3 357.48,397.1 376.25,385 395.02,379 413.78,379.6 432.55,381 451.32,383 470.08,400.1 488.85,405.4 507.62,430.8" fill="none" stroke="#20AAF0" stroke-width="1.3" stroke-dasharray="5 2.5 1 2.5"/><path d="M301.18 423.8L303.18 427.5L299.18 427.5Z" fill="#1060C8"/><path d="M319.95 422.2L321.95 425.9L317.95 425.9Z" fill="#1060C8"/><path d="M338.72 414.1L340.72 417.8L336.72 417.8Z" fill="#1060C8"/><path d="M357.48 394.9L359.48 398.6L355.48 398.6Z" fill="#1060C8"/><path d="M376.25 382.8L378.25 386.5L374.25 386.5Z" fill="#1060C8"/><path d="M395.02 376.8L397.02 380.5L393.02 380.5Z" fill="#1060C8"/><path d="M413.78 377.4L415.78 381.1L411.78 381.1Z" fill="#1060C8"/><path d="M432.55 378.8L434.55 382.5L430.55 382.5Z" fill="#1060C8"/><path d="M451.32 380.8L453.32 384.5L449.32 384.5Z" fill="#1060C8"/><path d="M470.08 397.9L472.08 401.6L468.08 401.6Z" fill="#1060C8"/><path d="M488.85 403.2L490.85 406.9L486.85 406.9Z" fill="#1060C8"/><path d="M507.62 428.6L509.62 432.3L505.62 432.3Z" fill="#1060C8"/>
<polyline points="301.18,432.2 319.95,421.5 338.72,397 357.48,387.5 376.25,384.4 395.02,371.2 413.78,371.2 432.55,381.3 451.32,385.6 470.08,403.7 488.85,415 507.62,439" fill="none" stroke="#2060D0" stroke-width="1.0" stroke-dasharray="1.6 1.6"/><rect x="299.68" y="430.7" width="3" height="3" fill="#1F5FCF"/><rect x="318.45" y="420" width="3" height="3" fill="#1F5FCF"/><rect x="337.22" y="395.5" width="3" height="3" fill="#1F5FCF"/><rect x="355.98" y="386" width="3" height="3" fill="#1F5FCF"/><rect x="374.75" y="382.9" width="3" height="3" fill="#1F5FCF"/><rect x="393.52" y="369.7" width="3" height="3" fill="#1F5FCF"/><rect x="412.28" y="369.7" width="3" height="3" fill="#1F5FCF"/><rect x="431.05" y="379.8" width="3" height="3" fill="#1F5FCF"/><rect x="449.82" y="384.1" width="3" height="3" fill="#1F5FCF"/><rect x="468.58" y="402.2" width="3" height="3" fill="#1F5FCF"/><rect x="487.35" y="413.5" width="3" height="3" fill="#1F5FCF"/><rect x="506.12" y="437.5" width="3" height="3" fill="#1F5FCF"/>
</g>
<line x1="291.8" y1="246" x2="291.8" y2="461.8" stroke="#5A5A5A" stroke-width="1.3"/>
<line x1="517" y1="246" x2="517" y2="461.8" stroke="#5A5A5A" stroke-width="1.3"/>
<line x1="291.8" y1="461.8" x2="517" y2="461.8" stroke="#404040" stroke-width="1.1"/>
<line x1="291.8" y1="461.8" x2="291.8" y2="464.2" stroke="#5A5A5A" stroke-width="0.9"/>
<line x1="310.57" y1="461.8" x2="310.57" y2="464.2" stroke="#5A5A5A" stroke-width="0.9"/>
<line x1="329.33" y1="461.8" x2="329.33" y2="464.2" stroke="#5A5A5A" stroke-width="0.9"/>
<line x1="348.1" y1="461.8" x2="348.1" y2="464.2" stroke="#5A5A5A" stroke-width="0.9"/>
<line x1="366.87" y1="461.8" x2="366.87" y2="464.2" stroke="#5A5A5A" stroke-width="0.9"/>
<line x1="385.63" y1="461.8" x2="385.63" y2="464.2" stroke="#5A5A5A" stroke-width="0.9"/>
<line x1="404.4" y1="461.8" x2="404.4" y2="464.2" stroke="#5A5A5A" stroke-width="0.9"/>
<line x1="423.17" y1="461.8" x2="423.17" y2="464.2" stroke="#5A5A5A" stroke-width="0.9"/>
<line x1="441.93" y1="461.8" x2="441.93" y2="464.2" stroke="#5A5A5A" stroke-width="0.9"/>
<line x1="460.7" y1="461.8" x2="460.7" y2="464.2" stroke="#5A5A5A" stroke-width="0.9"/>
<line x1="479.47" y1="461.8" x2="479.47" y2="464.2" stroke="#5A5A5A" stroke-width="0.9"/>
<line x1="498.23" y1="461.8" x2="498.23" y2="464.2" stroke="#5A5A5A" stroke-width="0.9"/>
<line x1="517" y1="461.8" x2="517" y2="464.2" stroke="#5A5A5A" stroke-width="0.9"/>
<line x1="288.8" y1="461.8" x2="291.8" y2="461.8" stroke="#5A5A5A" stroke-width="1"/>
<text x="284.6" y="464.9" text-anchor="end" font-family='"Liberation Sans", sans-serif' font-size="7.6" fill="#1a1a1a" stroke="#1a1a1a" stroke-width="0.22" textLength="3.7" lengthAdjust="spacingAndGlyphs">0</text>
<line x1="288.8" y1="442.13" x2="291.8" y2="442.13" stroke="#5A5A5A" stroke-width="1"/>
<text x="284.6" y="445.24" text-anchor="end" font-family='"Liberation Sans", sans-serif' font-size="7.6" fill="#1a1a1a" stroke="#1a1a1a" stroke-width="0.22" textLength="3.7" lengthAdjust="spacingAndGlyphs">3</text>
<line x1="288.8" y1="422.47" x2="291.8" y2="422.47" stroke="#5A5A5A" stroke-width="1"/>
<text x="284.6" y="425.57" text-anchor="end" font-family='"Liberation Sans", sans-serif' font-size="7.6" fill="#1a1a1a" stroke="#1a1a1a" stroke-width="0.22" textLength="3.7" lengthAdjust="spacingAndGlyphs">6</text>
<line x1="288.8" y1="402.81" x2="291.8" y2="402.81" stroke="#5A5A5A" stroke-width="1"/>
<text x="284.6" y="405.91" text-anchor="end" font-family='"Liberation Sans", sans-serif' font-size="7.6" fill="#1a1a1a" stroke="#1a1a1a" stroke-width="0.22" textLength="3.7" lengthAdjust="spacingAndGlyphs">9</text>
<line x1="288.8" y1="383.14" x2="291.8" y2="383.14" stroke="#5A5A5A" stroke-width="1"/>
<text x="284.6" y="386.24" text-anchor="end" font-family='"Liberation Sans", sans-serif' font-size="7.6" fill="#1a1a1a" stroke="#1a1a1a" stroke-width="0.22" textLength="7.7" lengthAdjust="spacingAndGlyphs">12</text>
<line x1="288.8" y1="363.48" x2="291.8" y2="363.48" stroke="#5A5A5A" stroke-width="1"/>
<text x="284.6" y="366.58" text-anchor="end" font-family='"Liberation Sans", sans-serif' font-size="7.6" fill="#1a1a1a" stroke="#1a1a1a" stroke-width="0.22" textLength="7.7" lengthAdjust="spacingAndGlyphs">15</text>
<line x1="288.8" y1="343.81" x2="291.8" y2="343.81" stroke="#5A5A5A" stroke-width="1"/>
<text x="284.6" y="346.91" text-anchor="end" font-family='"Liberation Sans", sans-serif' font-size="7.6" fill="#1a1a1a" stroke="#1a1a1a" stroke-width="0.22" textLength="7.7" lengthAdjust="spacingAndGlyphs">18</text>
<line x1="288.8" y1="324.14" x2="291.8" y2="324.14" stroke="#5A5A5A" stroke-width="1"/>
<text x="284.6" y="327.25" text-anchor="end" font-family='"Liberation Sans", sans-serif' font-size="7.6" fill="#1a1a1a" stroke="#1a1a1a" stroke-width="0.22" textLength="7.7" lengthAdjust="spacingAndGlyphs">21</text>
<line x1="288.8" y1="304.48" x2="291.8" y2="304.48" stroke="#5A5A5A" stroke-width="1"/>
<text x="284.6" y="307.58" text-anchor="end" font-family='"Liberation Sans", sans-serif' font-size="7.6" fill="#1a1a1a" stroke="#1a1a1a" stroke-width="0.22" textLength="7.7" lengthAdjust="spacingAndGlyphs">24</text>
<line x1="288.8" y1="284.82" x2="291.8" y2="284.82" stroke="#5A5A5A" stroke-width="1"/>
<text x="284.6" y="287.92" text-anchor="end" font-family='"Liberation Sans", sans-serif' font-size="7.6" fill="#1a1a1a" stroke="#1a1a1a" stroke-width="0.22" textLength="7.7" lengthAdjust="spacingAndGlyphs">27</text>
<line x1="288.8" y1="265.15" x2="291.8" y2="265.15" stroke="#5A5A5A" stroke-width="1"/>
<text x="284.6" y="268.25" text-anchor="end" font-family='"Liberation Sans", sans-serif' font-size="7.6" fill="#1a1a1a" stroke="#1a1a1a" stroke-width="0.22" textLength="7.7" lengthAdjust="spacingAndGlyphs">30</text>
<line x1="288.8" y1="245.49" x2="291.8" y2="245.49" stroke="#5A5A5A" stroke-width="1"/>
<text x="284.6" y="248.59" text-anchor="end" font-family='"Liberation Sans", sans-serif' font-size="7.6" fill="#1a1a1a" stroke="#1a1a1a" stroke-width="0.22" textLength="7.7" lengthAdjust="spacingAndGlyphs">33</text>
<line x1="517" y1="461.8" x2="520" y2="461.8" stroke="#5A5A5A" stroke-width="1"/>
<text x="524.2" y="464.9" font-family='"Liberation Sans", sans-serif' font-size="7.6" fill="#1a1a1a" stroke="#1a1a1a" stroke-width="0.22" textLength="3.7" lengthAdjust="spacingAndGlyphs">0</text>
<line x1="517" y1="438.3" x2="520" y2="438.3" stroke="#5A5A5A" stroke-width="1"/>
<text x="524.2" y="441.4" font-family='"Liberation Sans", sans-serif' font-size="7.6" fill="#1a1a1a" stroke="#1a1a1a" stroke-width="0.22" textLength="7.7" lengthAdjust="spacingAndGlyphs">25</text>
<line x1="517" y1="414.8" x2="520" y2="414.8" stroke="#5A5A5A" stroke-width="1"/>
<text x="524.2" y="417.9" font-family='"Liberation Sans", sans-serif' font-size="7.6" fill="#1a1a1a" stroke="#1a1a1a" stroke-width="0.22" textLength="7.7" lengthAdjust="spacingAndGlyphs">50</text>
<line x1="517" y1="391.3" x2="520" y2="391.3" stroke="#5A5A5A" stroke-width="1"/>
<text x="524.2" y="394.4" font-family='"Liberation Sans", sans-serif' font-size="7.6" fill="#1a1a1a" stroke="#1a1a1a" stroke-width="0.22" textLength="7.7" lengthAdjust="spacingAndGlyphs">75</text>
<line x1="517" y1="367.8" x2="520" y2="367.8" stroke="#5A5A5A" stroke-width="1"/>
<text x="524.2" y="370.9" font-family='"Liberation Sans", sans-serif' font-size="7.6" fill="#1a1a1a" stroke="#1a1a1a" stroke-width="0.22" textLength="11.7" lengthAdjust="spacingAndGlyphs">100</text>
<line x1="517" y1="344.3" x2="520" y2="344.3" stroke="#5A5A5A" stroke-width="1"/>
<text x="524.2" y="347.4" font-family='"Liberation Sans", sans-serif' font-size="7.6" fill="#1a1a1a" stroke="#1a1a1a" stroke-width="0.22" textLength="11.7" lengthAdjust="spacingAndGlyphs">125</text>
<line x1="517" y1="320.8" x2="520" y2="320.8" stroke="#5A5A5A" stroke-width="1"/>
<text x="524.2" y="323.9" font-family='"Liberation Sans", sans-serif' font-size="7.6" fill="#1a1a1a" stroke="#1a1a1a" stroke-width="0.22" textLength="11.7" lengthAdjust="spacingAndGlyphs">150</text>
<line x1="517" y1="297.3" x2="520" y2="297.3" stroke="#5A5A5A" stroke-width="1"/>
<text x="524.2" y="300.4" font-family='"Liberation Sans", sans-serif' font-size="7.6" fill="#1a1a1a" stroke="#1a1a1a" stroke-width="0.22" textLength="11.7" lengthAdjust="spacingAndGlyphs">175</text>
<line x1="517" y1="273.8" x2="520" y2="273.8" stroke="#5A5A5A" stroke-width="1"/>
<text x="524.2" y="276.9" font-family='"Liberation Sans", sans-serif' font-size="7.6" fill="#1a1a1a" stroke="#1a1a1a" stroke-width="0.22" textLength="11.7" lengthAdjust="spacingAndGlyphs">200</text>
<line x1="517" y1="250.3" x2="520" y2="250.3" stroke="#5A5A5A" stroke-width="1"/>
<text x="524.2" y="253.4" font-family='"Liberation Sans", sans-serif' font-size="7.6" fill="#1a1a1a" stroke="#1a1a1a" stroke-width="0.22" textLength="11.7" lengthAdjust="spacingAndGlyphs">225</text>
<text x="304.5" y="258.1" font-family='"Liberation Serif", serif' font-size="8.6" fill="#111" stroke="#111" stroke-width="0.25" textLength="29.3" lengthAdjust="spacingAndGlyphs">GONOR</text>
<text x="301.18" y="475.2" text-anchor="middle" font-family='"Liberation Sans", sans-serif' font-size="7.2" fill="#333" stroke="#333" stroke-width="0.22">Jan</text>
<text x="319.95" y="475.2" text-anchor="middle" font-family='"Liberation Sans", sans-serif' font-size="7.2" fill="#333" stroke="#333" stroke-width="0.22">Feb</text>
<text x="338.72" y="475.2" text-anchor="middle" font-family='"Liberation Sans", sans-serif' font-size="7.2" fill="#333" stroke="#333" stroke-width="0.22">Mar</text>
<text x="357.48" y="475.2" text-anchor="middle" font-family='"Liberation Sans", sans-serif' font-size="7.2" fill="#333" stroke="#333" stroke-width="0.22">Apr</text>
<text x="376.25" y="475.2" text-anchor="middle" font-family='"Liberation Sans", sans-serif' font-size="7.2" fill="#333" stroke="#333" stroke-width="0.22">May</text>
<text x="395.02" y="475.2" text-anchor="middle" font-family='"Liberation Sans", sans-serif' font-size="7.2" fill="#333" stroke="#333" stroke-width="0.22">Jun</text>
<text x="413.78" y="475.2" text-anchor="middle" font-family='"Liberation Sans", sans-serif' font-size="7.2" fill="#333" stroke="#333" stroke-width="0.22">Jul</text>
<text x="432.55" y="475.2" text-anchor="middle" font-family='"Liberation Sans", sans-serif' font-size="7.2" fill="#333" stroke="#333" stroke-width="0.22">Aug</text>
<text x="451.32" y="475.2" text-anchor="middle" font-family='"Liberation Sans", sans-serif' font-size="7.2" fill="#333" stroke="#333" stroke-width="0.22">Sep</text>
<text x="470.08" y="475.2" text-anchor="middle" font-family='"Liberation Sans", sans-serif' font-size="7.2" fill="#333" stroke="#333" stroke-width="0.22">Oct</text>
<text x="488.85" y="475.2" text-anchor="middle" font-family='"Liberation Sans", sans-serif' font-size="7.2" fill="#333" stroke="#333" stroke-width="0.22">Nov</text>
<text x="507.62" y="475.2" text-anchor="middle" font-family='"Liberation Sans", sans-serif' font-size="7.2" fill="#333" stroke="#333" stroke-width="0.22">Dec</text>
<text transform="translate(12.2,114.9) rotate(-90)" text-anchor="middle" font-family='"Liberation Serif", serif' font-size="9.62" fill="#111" stroke="#111" stroke-width="0.2">Temperature (°C)</text>
<text transform="translate(12.2,352.4) rotate(-90)" text-anchor="middle" font-family='"Liberation Serif", serif' font-size="9.62" fill="#111" stroke="#111" stroke-width="0.2">Temperature (°C)</text>
<text transform="translate(543.8,116.5) rotate(-90)" text-anchor="middle" font-family='"Liberation Serif", serif' font-size="9.4" fill="#111" stroke="#111" stroke-width="0.2">Precipitation (mm)</text>
<text transform="translate(543.8,354.8) rotate(-90)" text-anchor="middle" font-family='"Liberation Serif", serif' font-size="9.4" fill="#111" stroke="#111" stroke-width="0.2">Precipitation (mm)</text>
<rect x="27.3" y="496.2" width="29.2" height="4.4" fill="url(#lpc)" stroke="#00B0F0" stroke-width="1"/>
<text x="60.4" y="500.2" font-family='"Liberation Sans", sans-serif' font-size="7.4" fill="#3a3a3a" stroke="#3a3a3a" stroke-width="0.2">Rain (2005)</text>
<rect x="110" y="496.2" width="29.2" height="4.4" fill="url(#lpp)" stroke="#7030A0" stroke-width="1"/>
<text x="143.1" y="500.2" font-family='"Liberation Sans", sans-serif' font-size="7.4" fill="#3a3a3a" stroke="#3a3a3a" stroke-width="0.2">Rain (2010)</text>
<rect x="192.7" y="496.2" width="29.2" height="4.4" fill="url(#lpg)" stroke="#707070" stroke-width="1"/>
<text x="225.8" y="500.2" font-family='"Liberation Sans", sans-serif' font-size="7.4" fill="#3a3a3a" stroke="#3a3a3a" stroke-width="0.2">Rain (2015)</text>
<rect x="275.3" y="496.2" width="29.2" height="4.4" fill="url(#lpn)" stroke="#00B050" stroke-width="1"/>
<text x="308.4" y="500.2" font-family='"Liberation Sans", sans-serif' font-size="7.4" fill="#3a3a3a" stroke="#3a3a3a" stroke-width="0.2">Rain (2020)</text>
<line x1="357.7" y1="498.3" x2="362.8" y2="498.3" stroke="#1F3A8F" stroke-width="1.5"/><line x1="366.7" y1="498.3" x2="370.3" y2="498.3" stroke="#1F3A8F" stroke-width="1.5"/><line x1="375.4" y1="498.3" x2="379.5" y2="498.3" stroke="#1F3A8F" stroke-width="1.5"/><line x1="384.2" y1="498.3" x2="388.6" y2="498.3" stroke="#1F3A8F" stroke-width="1.5"/><path d="M370.6 495.8L375.4 500.8M375.4 495.8L370.6 500.8M373 495.5L373 501.1" stroke="#4A78C8" stroke-width="1.1" fill="none"/>
<text x="391.4" y="500.2" font-family='"Liberation Sans", sans-serif' font-size="7.4" fill="#3a3a3a" stroke="#3a3a3a" stroke-width="0.2">Tmax (2005)</text>
<line x1="440.4" y1="498.3" x2="445.5" y2="498.3" stroke="#00A050" stroke-width="1.5"/><line x1="449.5" y1="498.3" x2="453.3" y2="498.3" stroke="#00A050" stroke-width="1.5"/><line x1="459.3" y1="498.3" x2="463.3" y2="498.3" stroke="#00A050" stroke-width="1.5"/><line x1="467.3" y1="498.3" x2="471.6" y2="498.3" stroke="#00A050" stroke-width="1.5"/><circle cx="456" cy="498.3" r="2.5" fill="#fff" stroke="#00A050" stroke-width="1.1"/>
<text x="474.4" y="500.2" font-family='"Liberation Sans", sans-serif' font-size="7.4" fill="#3a3a3a" stroke="#3a3a3a" stroke-width="0.2">Tmax (2010)</text>
<line x1="26.5" y1="514.3" x2="33.6" y2="514.3" stroke="#6A2C9E" stroke-width="1.9"/><line x1="47.8" y1="514.3" x2="54.9" y2="514.3" stroke="#6A2C9E" stroke-width="1.9"/><path d="M41.8 511.9L44.2 514.3L41.8 516.7L39.4 514.3Z" fill="#6A2C9E"/>
<text x="60.4" y="516.2" font-family='"Liberation Sans", sans-serif' font-size="7.4" fill="#3a3a3a" stroke="#3a3a3a" stroke-width="0.2">Tmax (2015)</text>
<line x1="109.1" y1="514.3" x2="118.8" y2="514.3" stroke="#1F7F1F" stroke-width="1.4"/><line x1="128.3" y1="514.3" x2="138.1" y2="514.3" stroke="#1F7F1F" stroke-width="1.4"/><circle cx="124.5" cy="514.3" r="2.4" fill="#1F7F1F"/>
<text x="143.1" y="516.2" font-family='"Liberation Sans", sans-serif' font-size="7.4" fill="#3a3a3a" stroke="#3a3a3a" stroke-width="0.2">Tmin (2005)</text>
<line x1="192" y1="514.3" x2="196.7" y2="514.3" stroke="#F07020" stroke-width="1.4"/><line x1="220" y1="514.3" x2="223.6" y2="514.3" stroke="#F07020" stroke-width="1.4"/><circle cx="201.5" cy="514.3" r="0.8" fill="#F07020"/><circle cx="215.6" cy="514.3" r="0.8" fill="#F07020"/><circle cx="207" cy="514.3" r="2.7" fill="#F07020"/>
<text x="225.8" y="516.2" font-family='"Liberation Sans", sans-serif' font-size="7.4" fill="#3a3a3a" stroke="#3a3a3a" stroke-width="0.2">Tmin (2010)</text>
<line x1="274" y1="514.3" x2="289.3" y2="514.3" stroke="#1890E0" stroke-width="1.8"/><circle cx="295.8" cy="514.3" r="0.8" fill="#1890E0"/><circle cx="303.6" cy="514.3" r="0.8" fill="#1890E0"/><path d="M290.5 511.1L292.8 516.2L288.2 516.2Z" fill="#1050C0"/>
<text x="308.4" y="516.2" font-family='"Liberation Sans", sans-serif' font-size="7.4" fill="#3a3a3a" stroke="#3a3a3a" stroke-width="0.2">Tmin (2015)</text>
<line x1="357.4" y1="514.3" x2="367.9" y2="514.3" stroke="#FFB000" stroke-width="1.5"/><line x1="377.4" y1="514.3" x2="387.2" y2="514.3" stroke="#FFB000" stroke-width="1.5"/><path d="M373.2 511.8L375.7 514.3L373.2 516.8L370.7 514.3Z" fill="#FFB000"/>
<text x="391.4" y="516.2" font-family='"Liberation Sans", sans-serif' font-size="7.4" fill="#3a3a3a" stroke="#3a3a3a" stroke-width="0.2">Tmax (2020)</text>
<line x1="440.7" y1="514.3" x2="444" y2="514.3" stroke="#1F4FD0" stroke-width="1.5"/><line x1="446" y1="514.3" x2="449" y2="514.3" stroke="#1F4FD0" stroke-width="1.5"/><line x1="451" y1="514.3" x2="454.2" y2="514.3" stroke="#1F4FD0" stroke-width="1.5"/><line x1="460" y1="514.3" x2="464" y2="514.3" stroke="#1F4FD0" stroke-width="1.5"/><line x1="466" y1="514.3" x2="469.6" y2="514.3" stroke="#1F4FD0" stroke-width="1.5"/><rect x="454.4" y="512.3" width="4" height="4" fill="#1F5FD8"/>
<text x="474.4" y="516.2" font-family='"Liberation Sans", sans-serif' font-size="7.4" fill="#3a3a3a" stroke="#3a3a3a" stroke-width="0.2">Tmin (2020)</text>
</svg>
</body></html>
